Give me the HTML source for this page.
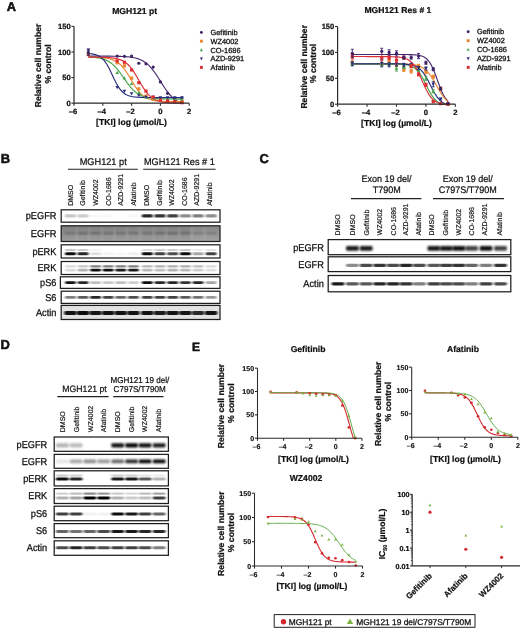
<!DOCTYPE html>
<html><head><meta charset="utf-8"><title>Figure</title><style>html,body{margin:0;padding:0;background:#fff;overflow:hidden;}svg{display:block;}</style></head><body>
<svg width="520" height="628" viewBox="0 0 520 628">
<defs><filter id="b1" x="-30%" y="-150%" width="160%" height="400%"><feGaussianBlur stdDeviation="0.9 0.75"/></filter><filter id="b2" x="-30%" y="-150%" width="160%" height="400%"><feGaussianBlur stdDeviation="1.1 0.95"/></filter><linearGradient id="gE" x1="0" y1="0" x2="0" y2="1"><stop offset="0" stop-color="#7e7e7e"/><stop offset="0.45" stop-color="#8c8c8c"/><stop offset="1" stop-color="#9d9d9d"/></linearGradient></defs>
<rect width="520" height="628" fill="#fff"/>
<g text-rendering="geometricPrecision" font-family="'Liberation Sans', Arial, sans-serif">
<text x="6.8" y="11.2" font-size="12.8" font-weight="bold" fill="#111" stroke="#111" stroke-width="0.55">A</text>
<text x="0.7" y="163.3" font-size="12.9" font-weight="bold" fill="#111" stroke="#111" stroke-width="0.55">B</text>
<text x="259.4" y="162.8" font-size="12.9" font-weight="bold" fill="#111" stroke="#111" stroke-width="0.55">C</text>
<text x="0.5" y="348.7" font-size="12.9" font-weight="bold" fill="#111" stroke="#111" stroke-width="0.55">D</text>
<text x="192.1" y="350.9" font-size="12" font-weight="bold" fill="#111" stroke="#111" stroke-width="0.55">E</text>
<text x="134.6" y="13.5" font-size="8.6" font-weight="bold" text-anchor="middle" fill="#111" stroke="#111" stroke-width="0.22">MGH121 pt</text>
<text x="41.4" y="65.5" font-size="8.6" font-weight="bold" text-anchor="middle" fill="#111" transform="rotate(-90 41.4 65.5)" stroke="#111" stroke-width="0.22">Relative cell number</text>
<text x="51.3" y="64" font-size="8.6" font-weight="bold" text-anchor="middle" fill="#111" transform="rotate(-90 51.3 64)" stroke="#111" stroke-width="0.22">% control</text>
<text x="131.5" y="125" font-size="8.6" font-weight="bold" text-anchor="middle" fill="#111" stroke="#111" stroke-width="0.22">[TKI] log (&#181;mol/L)</text>
<polyline points="88.4,56.1 89.57,56.1 90.74,56.1 91.91,56.1 93.08,56.11 94.25,56.11 95.42,56.11 96.59,56.11 97.76,56.11 98.93,56.12 100.1,56.12 101.27,56.12 102.44,56.13 103.61,56.13 104.78,56.14 105.95,56.14 107.12,56.15 108.29,56.16 109.46,56.17 110.63,56.18 111.8,56.2 112.97,56.21 114.14,56.23 115.31,56.25 116.48,56.28 117.65,56.31 118.82,56.34 119.99,56.38 121.16,56.43 122.33,56.48 123.5,56.54 124.67,56.61 125.84,56.69 127.01,56.79 128.18,56.9 129.35,57.02 130.52,57.17 131.69,57.34 132.86,57.53 134.03,57.76 135.2,58.02 136.37,58.31 137.54,58.65 138.71,59.04 139.88,59.49 141.05,59.99 142.22,60.56 143.39,61.21 144.56,61.94 145.73,62.76 146.9,63.67 148.07,64.69 149.24,65.8 150.41,67.03 151.58,68.36 152.75,69.8 153.92,71.34 155.09,72.98 156.26,74.69 157.43,76.47 158.6,78.31 159.77,80.17 160.94,82.05 162.11,83.92 163.28,85.75 164.45,87.54 165.62,89.26 166.79,90.9 167.96,92.45 169.13,93.9 170.3,95.24 171.47,96.47 172.64,97.6 173.81,98.62 174.98,99.54 176.15,100.37 177.32,101.1 178.49,101.76 179.66,102.34 180.83,102.85 182,103.2" fill="none" stroke="#472a6e" stroke-width="1.15"/>
<polyline points="88.4,57.19 89.57,57.2 90.74,57.22 91.91,57.24 93.08,57.26 94.25,57.29 95.42,57.32 96.59,57.36 97.76,57.41 98.93,57.46 100.1,57.53 101.27,57.61 102.44,57.7 103.61,57.82 104.78,57.95 105.95,58.11 107.12,58.29 108.29,58.52 109.46,58.78 110.63,59.08 111.8,59.45 112.97,59.87 114.14,60.37 115.31,60.94 116.48,61.61 117.65,62.38 118.82,63.27 119.99,64.27 121.16,65.4 122.33,66.67 123.5,68.07 124.67,69.6 125.84,71.26 127.01,73.03 128.18,74.89 129.35,76.82 130.52,78.78 131.69,80.76 132.86,82.72 134.03,84.62 135.2,86.45 136.37,88.18 137.54,89.79 138.71,91.27 139.88,92.62 141.05,93.83 142.22,94.91 143.39,95.87 144.56,96.71 145.73,97.44 146.9,98.07 148.07,98.62 149.24,99.08 150.41,99.48 151.58,99.82 152.75,100.11 153.92,100.36 155.09,100.57 156.26,100.74 157.43,100.89 158.6,101.01 159.77,101.12 160.94,101.21 162.11,101.28 163.28,101.34 164.45,101.39 165.62,101.44 166.79,101.47 167.96,101.51 169.13,101.53 170.3,101.55 171.47,101.57 172.64,101.59 173.81,101.6 174.98,101.61 176.15,101.62 177.32,101.63 178.49,101.63 179.66,101.64 180.83,101.64 182,101.65" fill="none" stroke="#ea8530" stroke-width="1.15"/>
<polyline points="88.4,56.96 89.57,57.02 90.74,57.09 91.91,57.17 93.08,57.26 94.25,57.37 95.42,57.5 96.59,57.65 97.76,57.83 98.93,58.03 100.1,58.26 101.27,58.54 102.44,58.85 103.61,59.22 104.78,59.63 105.95,60.11 107.12,60.66 108.29,61.28 109.46,61.98 110.63,62.77 111.8,63.66 112.97,64.65 114.14,65.73 115.31,66.92 116.48,68.22 117.65,69.61 118.82,71.08 119.99,72.64 121.16,74.25 122.33,75.91 123.5,77.6 124.67,79.28 125.84,80.95 127.01,82.58 128.18,84.16 129.35,85.66 130.52,87.08 131.69,88.4 132.86,89.62 134.03,90.74 135.2,91.76 136.37,92.68 137.54,93.5 138.71,94.23 139.88,94.87 141.05,95.44 142.22,95.94 143.39,96.37 144.56,96.75 145.73,97.08 146.9,97.37 148.07,97.61 149.24,97.83 150.41,98.01 151.58,98.17 152.75,98.3 153.92,98.42 155.09,98.52 156.26,98.6 157.43,98.68 158.6,98.74 159.77,98.79 160.94,98.84 162.11,98.88 163.28,98.91 164.45,98.94 165.62,98.96 166.79,98.98 167.96,99 169.13,99.02 170.3,99.03 171.47,99.04 172.64,99.05 173.81,99.06 174.98,99.06 176.15,99.07 177.32,99.08 178.49,99.08 179.66,99.08 180.83,99.09 182,99.09" fill="none" stroke="#45a448" stroke-width="1.15"/>
<polyline points="88.4,53.46 89.57,53.57 90.74,53.7 91.91,53.87 93.08,54.08 94.25,54.34 95.42,54.66 96.59,55.05 97.76,55.53 98.93,56.12 100.1,56.83 101.27,57.69 102.44,58.72 103.61,59.93 104.78,61.34 105.95,62.97 107.12,64.81 108.29,66.85 109.46,69.08 110.63,71.45 111.8,73.91 112.97,76.41 114.14,78.88 115.31,81.26 116.48,83.51 117.65,85.57 118.82,87.44 119.99,89.09 121.16,90.52 122.33,91.75 123.5,92.8 124.67,93.67 125.84,94.4 127.01,95 128.18,95.49 129.35,95.89 130.52,96.22 131.69,96.49 132.86,96.7 134.03,96.87 135.2,97.01 136.37,97.12 137.54,97.21 138.71,97.28 139.88,97.34 141.05,97.38 142.22,97.42 143.39,97.45 144.56,97.47 145.73,97.49 146.9,97.51 148.07,97.52 149.24,97.53 150.41,97.54 151.58,97.54 152.75,97.55 153.92,97.55 155.09,97.56 156.26,97.56 157.43,97.56 158.6,97.56 159.77,97.56 160.94,97.56 162.11,97.56 163.28,97.57 164.45,97.57 165.62,97.57 166.79,97.57 167.96,97.57 169.13,97.57 170.3,97.57 171.47,97.57 172.64,97.57 173.81,97.57 174.98,97.57 176.15,97.57 177.32,97.57 178.49,97.57 179.66,97.57 180.83,97.57 182,97.57" fill="none" stroke="#262d7c" stroke-width="1.15"/>
<polyline points="88.4,57.14 89.57,57.15 90.74,57.15 91.91,57.16 93.08,57.16 94.25,57.17 95.42,57.18 96.59,57.2 97.76,57.21 98.93,57.23 100.1,57.25 101.27,57.27 102.44,57.3 103.61,57.34 104.78,57.38 105.95,57.43 107.12,57.49 108.29,57.56 109.46,57.65 110.63,57.75 111.8,57.87 112.97,58.01 114.14,58.18 115.31,58.38 116.48,58.62 117.65,58.9 118.82,59.23 119.99,59.62 121.16,60.08 122.33,60.61 123.5,61.23 124.67,61.94 125.84,62.77 127.01,63.71 128.18,64.78 129.35,65.98 130.52,67.32 131.69,68.8 132.86,70.42 134.03,72.16 135.2,74.01 136.37,75.96 137.54,77.96 138.71,80 139.88,82.05 141.05,84.06 142.22,86.01 143.39,87.88 144.56,89.64 145.73,91.28 146.9,92.78 148.07,94.14 149.24,95.37 150.41,96.46 151.58,97.42 152.75,98.26 153.92,98.99 155.09,99.62 156.26,100.17 157.43,100.63 158.6,101.03 159.77,101.37 160.94,101.66 162.11,101.9 163.28,102.11 164.45,102.28 165.62,102.43 166.79,102.55 167.96,102.66 169.13,102.74 170.3,102.82 171.47,102.88 172.64,102.93 173.81,102.98 174.98,103.01 176.15,103.04 177.32,103.07 178.49,103.09 179.66,103.11 180.83,103.12 182,103.14" fill="none" stroke="#dc2f34" stroke-width="1.15"/>
<circle cx="117.2" cy="56.1" r="1.6" fill="#3d2165"/>
<circle cx="124.4" cy="56.3" r="1.6" fill="#3d2165"/>
<circle cx="131.6" cy="56.1" r="1.6" fill="#3d2165"/>
<circle cx="138.8" cy="63.26" r="1.6" fill="#3d2165"/>
<circle cx="146" cy="63.78" r="1.6" fill="#3d2165"/>
<circle cx="153.2" cy="67.1" r="1.6" fill="#3d2165"/>
<circle cx="160.4" cy="81.9" r="1.6" fill="#3d2165"/>
<circle cx="167.6" cy="93.32" r="1.6" fill="#3d2165"/>
<circle cx="174.8" cy="98.59" r="1.6" fill="#3d2165"/>
<circle cx="182" cy="98.08" r="1.6" fill="#3d2165"/>
<rect x="115.6" y="61.15" width="3.2" height="3.2" fill="#ea8530"/>
<rect x="122.8" y="64.22" width="3.2" height="3.2" fill="#ea8530"/>
<rect x="130" y="76.51" width="3.2" height="3.2" fill="#ea8530"/>
<rect x="137.2" y="87.26" width="3.2" height="3.2" fill="#ea8530"/>
<rect x="144.4" y="94.43" width="3.2" height="3.2" fill="#ea8530"/>
<rect x="151.6" y="97.5" width="3.2" height="3.2" fill="#ea8530"/>
<rect x="158.8" y="98.53" width="3.2" height="3.2" fill="#ea8530"/>
<rect x="166" y="99.04" width="3.2" height="3.2" fill="#ea8530"/>
<rect x="173.2" y="99.55" width="3.2" height="3.2" fill="#ea8530"/>
<rect x="180.4" y="100.06" width="3.2" height="3.2" fill="#ea8530"/>
<polygon points="117.2,70.84 118.96,74.06 115.44,74.06" fill="#45a448"/>
<polygon points="124.4,76.27 126.16,79.49 122.64,79.49" fill="#45a448"/>
<polygon points="131.6,81.9 133.36,85.12 129.84,85.12" fill="#45a448"/>
<polygon points="138.8,91.12 140.56,94.34 137.04,94.34" fill="#45a448"/>
<polygon points="146,95.22 147.76,98.44 144.24,98.44" fill="#45a448"/>
<polygon points="153.2,96.24 154.96,99.46 151.44,99.46" fill="#45a448"/>
<polygon points="160.4,96.75 162.16,99.97 158.64,99.97" fill="#45a448"/>
<polygon points="167.6,96.75 169.36,99.97 165.84,99.97" fill="#45a448"/>
<polygon points="174.8,97.26 176.56,100.48 173.04,100.48" fill="#45a448"/>
<polygon points="182,97.26 183.76,100.48 180.24,100.48" fill="#45a448"/>
<polygon points="117.2,89.17 118.96,85.95 115.44,85.95" fill="#262d7c"/>
<polygon points="124.4,92.96 126.16,89.74 122.64,89.74" fill="#262d7c"/>
<polygon points="131.6,95.57 133.36,92.35 129.84,92.35" fill="#262d7c"/>
<polygon points="138.8,97.36 140.56,94.14 137.04,94.14" fill="#262d7c"/>
<polygon points="146,98.9 147.76,95.68 144.24,95.68" fill="#262d7c"/>
<polygon points="153.2,98.9 154.96,95.68 151.44,95.68" fill="#262d7c"/>
<polygon points="160.4,99.41 162.16,96.19 158.64,96.19" fill="#262d7c"/>
<polygon points="167.6,99.41 169.36,96.19 165.84,96.19" fill="#262d7c"/>
<polygon points="174.8,99.41 176.56,96.19 173.04,96.19" fill="#262d7c"/>
<polygon points="182,99.41 183.76,96.19 180.24,96.19" fill="#262d7c"/>
<rect x="115.6" y="59.31" width="3.2" height="3.2" fill="#dc2f34"/>
<rect x="122.8" y="60.64" width="3.2" height="3.2" fill="#dc2f34"/>
<rect x="130" y="68.32" width="3.2" height="3.2" fill="#dc2f34"/>
<rect x="137.2" y="81.12" width="3.2" height="3.2" fill="#dc2f34"/>
<rect x="144.4" y="89.52" width="3.2" height="3.2" fill="#dc2f34"/>
<rect x="151.6" y="95.46" width="3.2" height="3.2" fill="#dc2f34"/>
<rect x="158.8" y="98.53" width="3.2" height="3.2" fill="#dc2f34"/>
<rect x="166" y="99.55" width="3.2" height="3.2" fill="#dc2f34"/>
<rect x="173.2" y="100.06" width="3.2" height="3.2" fill="#dc2f34"/>
<rect x="180.4" y="101.09" width="3.2" height="3.2" fill="#dc2f34"/>
<rect x="86.8" y="52.96" width="3.2" height="3.2" fill="#dc2f34"/>
<rect x="86.8" y="51.94" width="3.2" height="3.2" fill="#ea8530"/>
<polygon points="88.4,51.18 90.16,54.4 86.64,54.4" fill="#45a448"/>
<circle cx="88.4" cy="52.51" r="1.6" fill="#3d2165"/>
<polygon points="88.4,52.82 90.16,49.6 86.64,49.6" fill="#262d7c"/>
<path d="M88.4 48.93V55.07M86.8 48.93h3.2M86.8 55.07h3.2" stroke="#3d2165" stroke-width="1"/>
<path d="M74 26.4V103.2H189.2" fill="none" stroke="#2a2a2a" stroke-width="1.2"/>
<path d="M71.4 103.2H74" stroke="#2a2a2a" stroke-width="1.1"/>
<text x="70.7" y="105.94" font-size="7.6" font-weight="bold" text-anchor="end" fill="#111" stroke="#111" stroke-width="0.22">0</text>
<path d="M71.4 77.6H74" stroke="#2a2a2a" stroke-width="1.1"/>
<text x="70.7" y="80.34" font-size="7.6" font-weight="bold" text-anchor="end" fill="#111" stroke="#111" stroke-width="0.22">50</text>
<path d="M71.4 52H74" stroke="#2a2a2a" stroke-width="1.1"/>
<text x="70.7" y="54.74" font-size="7.6" font-weight="bold" text-anchor="end" fill="#111" stroke="#111" stroke-width="0.22">100</text>
<path d="M71.4 26.4H74" stroke="#2a2a2a" stroke-width="1.1"/>
<text x="70.7" y="29.14" font-size="7.6" font-weight="bold" text-anchor="end" fill="#111" stroke="#111" stroke-width="0.22">150</text>
<path d="M74 103.2V105.8" stroke="#2a2a2a" stroke-width="1.1"/>
<text x="73" y="113.8" font-size="7.6" font-weight="bold" text-anchor="middle" fill="#111" stroke="#111" stroke-width="0.22">&#8211;6</text>
<path d="M102.8 103.2V105.8" stroke="#2a2a2a" stroke-width="1.1"/>
<text x="101.8" y="113.8" font-size="7.6" font-weight="bold" text-anchor="middle" fill="#111" stroke="#111" stroke-width="0.22">&#8211;4</text>
<path d="M131.6 103.2V105.8" stroke="#2a2a2a" stroke-width="1.1"/>
<text x="130.6" y="113.8" font-size="7.6" font-weight="bold" text-anchor="middle" fill="#111" stroke="#111" stroke-width="0.22">&#8211;2</text>
<path d="M160.4 103.2V105.8" stroke="#2a2a2a" stroke-width="1.1"/>
<text x="160.4" y="113.8" font-size="7.6" font-weight="bold" text-anchor="middle" fill="#111" stroke="#111" stroke-width="0.22">0</text>
<path d="M189.2 103.2V105.8" stroke="#2a2a2a" stroke-width="1.1"/>
<text x="189.2" y="113.8" font-size="7.6" font-weight="bold" text-anchor="middle" fill="#111" stroke="#111" stroke-width="0.22">2</text>
<circle cx="201.4" cy="32.4" r="1.45" fill="#3d2165"/>
<text x="210.5" y="35" font-size="7.4" fill="#111" stroke="#111" stroke-width="0.28">Gefitinib</text>
<rect x="199.95" y="39.7" width="2.9" height="2.9" fill="#ea8530"/>
<text x="210.5" y="43.75" font-size="7.4" fill="#111" stroke="#111" stroke-width="0.28">WZ4002</text>
<polygon points="201.4,48.23 203,51.15 199.81,51.15" fill="#45a448"/>
<text x="210.5" y="52.5" font-size="7.4" fill="#111" stroke="#111" stroke-width="0.28">CO-1686</text>
<polygon points="201.4,60.32 203,57.4 199.81,57.4" fill="#262d7c"/>
<text x="210.5" y="61.25" font-size="7.4" fill="#111" stroke="#111" stroke-width="0.28">AZD-9291</text>
<rect x="199.95" y="65.95" width="2.9" height="2.9" fill="#dc2f34"/>
<text x="210.5" y="70" font-size="7.4" fill="#111" stroke="#111" stroke-width="0.28">Afatinib</text>
<text x="397.9" y="13.2" font-size="8.6" font-weight="bold" text-anchor="middle" fill="#111" stroke="#111" stroke-width="0.22">MGH121 Res # 1</text>
<text x="306.7" y="66.8" font-size="8.6" font-weight="bold" text-anchor="middle" fill="#111" transform="rotate(-90 306.7 66.8)" stroke="#111" stroke-width="0.22">Relative cell number</text>
<text x="316.2" y="63.4" font-size="8.6" font-weight="bold" text-anchor="middle" fill="#111" transform="rotate(-90 316.2 63.4)" stroke="#111" stroke-width="0.22">% control</text>
<text x="396.5" y="126" font-size="8.6" font-weight="bold" text-anchor="middle" fill="#111" stroke="#111" stroke-width="0.22">[TKI] log (&#181;mol/L)</text>
<polyline points="352.32,54.47 353.52,54.47 354.71,54.47 355.91,54.47 357.1,54.47 358.3,54.47 359.5,54.47 360.69,54.47 361.89,54.47 363.08,54.47 364.28,54.47 365.48,54.47 366.67,54.47 367.87,54.47 369.06,54.47 370.26,54.47 371.46,54.47 372.65,54.47 373.85,54.47 375.04,54.47 376.24,54.47 377.44,54.47 378.63,54.47 379.83,54.47 381.02,54.47 382.22,54.47 383.42,54.47 384.61,54.47 385.81,54.47 387,54.47 388.2,54.47 389.4,54.47 390.59,54.47 391.79,54.47 392.98,54.48 394.18,54.48 395.38,54.48 396.57,54.48 397.77,54.48 398.96,54.48 400.16,54.49 401.36,54.49 402.55,54.5 403.75,54.5 404.94,54.51 406.14,54.53 407.34,54.54 408.53,54.56 409.73,54.59 410.92,54.63 412.12,54.67 413.32,54.73 414.51,54.81 415.71,54.91 416.9,55.04 418.1,55.21 419.3,55.43 420.49,55.71 421.69,56.06 422.88,56.52 424.08,57.1 425.28,57.84 426.47,58.76 427.67,59.91 428.86,61.32 430.06,63.03 431.26,65.06 432.45,67.43 433.65,70.13 434.84,73.11 436.04,76.32 437.24,79.65 438.43,82.99 439.63,86.24 440.82,89.3 442.02,92.08 443.22,94.54 444.41,96.67 445.61,98.46 446.8,99.95 448,101.17" fill="none" stroke="#472a6e" stroke-width="1.15"/>
<polyline points="352.32,63.8 353.52,63.8 354.71,63.8 355.91,63.8 357.1,63.8 358.3,63.8 359.5,63.8 360.69,63.8 361.89,63.8 363.08,63.8 364.28,63.8 365.48,63.8 366.67,63.8 367.87,63.8 369.06,63.8 370.26,63.8 371.46,63.8 372.65,63.8 373.85,63.8 375.04,63.8 376.24,63.8 377.44,63.8 378.63,63.8 379.83,63.8 381.02,63.8 382.22,63.8 383.42,63.8 384.61,63.8 385.81,63.81 387,63.81 388.2,63.81 389.4,63.81 390.59,63.82 391.79,63.82 392.98,63.83 394.18,63.84 395.38,63.85 396.57,63.86 397.77,63.87 398.96,63.89 400.16,63.91 401.36,63.93 402.55,63.96 403.75,64 404.94,64.04 406.14,64.09 407.34,64.15 408.53,64.23 409.73,64.32 410.92,64.44 412.12,64.57 413.32,64.74 414.51,64.94 415.71,65.18 416.9,65.47 418.1,65.81 419.3,66.22 420.49,66.72 421.69,67.3 422.88,67.98 424.08,68.79 425.28,69.73 426.47,70.81 427.67,72.04 428.86,73.43 430.06,74.99 431.26,76.69 432.45,78.55 433.65,80.52 434.84,82.58 436.04,84.7 437.24,86.83 438.43,88.94 439.63,90.99 440.82,92.94 442.02,94.76 443.22,96.44 444.41,97.96 445.61,99.32 446.8,100.53 448,101.58" fill="none" stroke="#ea8530" stroke-width="1.15"/>
<polyline points="352.32,63.8 353.52,63.8 354.71,63.8 355.91,63.8 357.1,63.8 358.3,63.8 359.5,63.8 360.69,63.8 361.89,63.8 363.08,63.8 364.28,63.8 365.48,63.8 366.67,63.8 367.87,63.8 369.06,63.8 370.26,63.8 371.46,63.8 372.65,63.8 373.85,63.8 375.04,63.8 376.24,63.8 377.44,63.8 378.63,63.8 379.83,63.8 381.02,63.8 382.22,63.81 383.42,63.81 384.61,63.81 385.81,63.82 387,63.82 388.2,63.83 389.4,63.84 390.59,63.85 391.79,63.86 392.98,63.88 394.18,63.9 395.38,63.93 396.57,63.96 397.77,64 398.96,64.05 400.16,64.11 401.36,64.19 402.55,64.29 403.75,64.41 404.94,64.57 406.14,64.75 407.34,64.99 408.53,65.28 409.73,65.64 410.92,66.07 412.12,66.61 413.32,67.26 414.51,68.05 415.71,68.98 416.9,70.1 418.1,71.4 419.3,72.9 420.49,74.61 421.69,76.52 422.88,78.6 424.08,80.84 425.28,83.17 426.47,85.55 427.67,87.91 428.86,90.21 430.06,92.38 431.26,94.39 432.45,96.22 433.65,97.84 434.84,99.25 436.04,100.47 437.24,101.51 438.43,102.38 439.63,103.1 440.82,103.7 442.02,104.19 443.22,104.2 444.41,104.2 445.61,104.2 446.8,104.2 448,104.2" fill="none" stroke="#45a448" stroke-width="1.15"/>
<polyline points="352.32,63.8 353.52,63.8 354.71,63.8 355.91,63.8 357.1,63.8 358.3,63.8 359.5,63.8 360.69,63.8 361.89,63.8 363.08,63.8 364.28,63.8 365.48,63.8 366.67,63.8 367.87,63.8 369.06,63.8 370.26,63.8 371.46,63.8 372.65,63.8 373.85,63.8 375.04,63.8 376.24,63.8 377.44,63.8 378.63,63.8 379.83,63.8 381.02,63.8 382.22,63.8 383.42,63.8 384.61,63.8 385.81,63.81 387,63.81 388.2,63.81 389.4,63.82 390.59,63.82 391.79,63.83 392.98,63.83 394.18,63.84 395.38,63.86 396.57,63.87 397.77,63.89 398.96,63.91 400.16,63.94 401.36,63.98 402.55,64.03 403.75,64.08 404.94,64.15 406.14,64.24 407.34,64.35 408.53,64.49 409.73,64.67 410.92,64.88 412.12,65.14 413.32,65.47 414.51,65.87 415.71,66.36 416.9,66.96 418.1,67.68 419.3,68.55 420.49,69.58 421.69,70.79 422.88,72.21 424.08,73.82 425.28,75.64 426.47,77.65 427.67,79.82 428.86,82.12 430.06,84.48 431.26,86.86 432.45,89.2 433.65,91.43 434.84,93.52 436.04,95.43 437.24,97.14 438.43,98.65 439.63,99.95 440.82,101.07 442.02,102.01 443.22,102.8 444.41,103.45 445.61,103.99 446.8,104.2 448,104.2" fill="none" stroke="#262d7c" stroke-width="1.15"/>
<polyline points="352.32,56.54 353.52,56.54 354.71,56.54 355.91,56.54 357.1,56.54 358.3,56.54 359.5,56.54 360.69,56.54 361.89,56.54 363.08,56.54 364.28,56.54 365.48,56.55 366.67,56.55 367.87,56.55 369.06,56.55 370.26,56.55 371.46,56.55 372.65,56.55 373.85,56.55 375.04,56.55 376.24,56.55 377.44,56.55 378.63,56.56 379.83,56.56 381.02,56.57 382.22,56.57 383.42,56.58 384.61,56.59 385.81,56.6 387,56.61 388.2,56.63 389.4,56.65 390.59,56.67 391.79,56.7 392.98,56.74 394.18,56.79 395.38,56.86 396.57,56.93 397.77,57.03 398.96,57.15 400.16,57.3 401.36,57.49 402.55,57.72 403.75,58.01 404.94,58.37 406.14,58.81 407.34,59.34 408.53,60 409.73,60.79 410.92,61.74 412.12,62.88 413.32,64.22 414.51,65.79 415.71,67.59 416.9,69.62 418.1,71.88 419.3,74.33 420.49,76.93 421.69,79.63 422.88,82.36 424.08,85.05 425.28,87.65 426.47,90.08 427.67,92.32 428.86,94.34 430.06,96.12 431.26,97.67 432.45,98.99 433.65,100.12 434.84,101.06 436.04,101.84 437.24,102.48 438.43,103.01 439.63,103.44 440.82,103.79 442.02,104.08 443.22,104.2 444.41,104.2 445.61,104.2 446.8,104.2 448,104.2" fill="none" stroke="#dc2f34" stroke-width="1.15"/>
<path d="M352.32 60.69V64.83M350.82 60.69h3M350.82 64.83h3" stroke="#ea8530" stroke-width="0.9"/>
<rect x="350.72" y="61.16" width="3.2" height="3.2" fill="#ea8530"/>
<path d="M381.76 62.24V65.35M380.26 62.24h3M380.26 65.35h3" stroke="#ea8530" stroke-width="0.9"/>
<rect x="380.16" y="62.2" width="3.2" height="3.2" fill="#ea8530"/>
<path d="M389.12 58.62V63.8M387.62 58.62h3M387.62 63.8h3" stroke="#ea8530" stroke-width="0.9"/>
<rect x="387.52" y="59.61" width="3.2" height="3.2" fill="#ea8530"/>
<path d="M396.48 63.8V66.9M394.98 63.8h3M394.98 66.9h3" stroke="#ea8530" stroke-width="0.9"/>
<rect x="394.88" y="63.75" width="3.2" height="3.2" fill="#ea8530"/>
<path d="M403.84 67.42V71.57M402.34 67.42h3M402.34 71.57h3" stroke="#ea8530" stroke-width="0.9"/>
<rect x="402.24" y="67.89" width="3.2" height="3.2" fill="#ea8530"/>
<path d="M411.2 68.98V73.12M409.7 68.98h3M409.7 73.12h3" stroke="#ea8530" stroke-width="0.9"/>
<rect x="409.6" y="69.45" width="3.2" height="3.2" fill="#ea8530"/>
<path d="M418.56 64.31V67.42M417.06 64.31h3M417.06 67.42h3" stroke="#ea8530" stroke-width="0.9"/>
<rect x="416.96" y="64.27" width="3.2" height="3.2" fill="#ea8530"/>
<path d="M425.92 70.53V73.64M424.42 70.53h3M424.42 73.64h3" stroke="#ea8530" stroke-width="0.9"/>
<rect x="424.32" y="70.48" width="3.2" height="3.2" fill="#ea8530"/>
<path d="M433.28 75.19V78.3M431.78 75.19h3M431.78 78.3h3" stroke="#ea8530" stroke-width="0.9"/>
<rect x="431.68" y="75.15" width="3.2" height="3.2" fill="#ea8530"/>
<path d="M440.64 87.11V90.21M439.14 87.11h3M439.14 90.21h3" stroke="#ea8530" stroke-width="0.9"/>
<rect x="439.04" y="87.06" width="3.2" height="3.2" fill="#ea8530"/>
<rect x="446.4" y="102.6" width="3.2" height="3.2" fill="#ea8530"/>
<path d="M352.32 62.24V65.35M350.82 62.24h3M350.82 65.35h3" stroke="#45a448" stroke-width="0.9"/>
<polygon points="352.32,61.96 354.08,65.18 350.56,65.18" fill="#45a448"/>
<path d="M381.76 62.76V65.87M380.26 62.76h3M380.26 65.87h3" stroke="#45a448" stroke-width="0.9"/>
<polygon points="381.76,62.47 383.52,65.69 380,65.69" fill="#45a448"/>
<path d="M389.12 62.76V65.87M387.62 62.76h3M387.62 65.87h3" stroke="#45a448" stroke-width="0.9"/>
<polygon points="389.12,62.47 390.88,65.69 387.36,65.69" fill="#45a448"/>
<path d="M396.48 65.87V71.05M394.98 65.87h3M394.98 71.05h3" stroke="#45a448" stroke-width="0.9"/>
<polygon points="396.48,66.62 398.24,69.84 394.72,69.84" fill="#45a448"/>
<path d="M403.84 65.35V68.46M402.34 65.35h3M402.34 68.46h3" stroke="#45a448" stroke-width="0.9"/>
<polygon points="403.84,65.06 405.6,68.28 402.08,68.28" fill="#45a448"/>
<path d="M411.2 64.31V67.42M409.7 64.31h3M409.7 67.42h3" stroke="#45a448" stroke-width="0.9"/>
<polygon points="411.2,64.03 412.96,67.25 409.44,67.25" fill="#45a448"/>
<path d="M418.56 68.46V71.57M417.06 68.46h3M417.06 71.57h3" stroke="#45a448" stroke-width="0.9"/>
<polygon points="418.56,68.17 420.32,71.39 416.8,71.39" fill="#45a448"/>
<path d="M425.92 76.23V80.37M424.42 76.23h3M424.42 80.37h3" stroke="#45a448" stroke-width="0.9"/>
<polygon points="425.92,76.46 427.68,79.68 424.16,79.68" fill="#45a448"/>
<path d="M433.28 89.7V92.8M431.78 89.7h3M431.78 92.8h3" stroke="#45a448" stroke-width="0.9"/>
<polygon points="433.28,89.41 435.04,92.63 431.52,92.63" fill="#45a448"/>
<polygon points="440.64,101.32 442.4,104.54 438.88,104.54" fill="#45a448"/>
<polygon points="448,102.36 449.76,105.58 446.24,105.58" fill="#45a448"/>
<path d="M352.32 61.72V65.87M350.82 61.72h3M350.82 65.87h3" stroke="#262d7c" stroke-width="0.9"/>
<polygon points="352.32,65.64 354.08,62.42 350.56,62.42" fill="#262d7c"/>
<path d="M381.76 59.65V66.9M380.26 59.65h3M380.26 66.9h3" stroke="#262d7c" stroke-width="0.9"/>
<polygon points="381.76,65.12 383.52,61.9 380,61.9" fill="#262d7c"/>
<path d="M389.12 62.76V66.9M387.62 62.76h3M387.62 66.9h3" stroke="#262d7c" stroke-width="0.9"/>
<polygon points="389.12,66.67 390.88,63.45 387.36,63.45" fill="#262d7c"/>
<path d="M396.48 62.76V65.87M394.98 62.76h3M394.98 65.87h3" stroke="#262d7c" stroke-width="0.9"/>
<polygon points="396.48,66.15 398.24,62.93 394.72,62.93" fill="#262d7c"/>
<path d="M403.84 63.28V66.39M402.34 63.28h3M402.34 66.39h3" stroke="#262d7c" stroke-width="0.9"/>
<polygon points="403.84,66.67 405.6,63.45 402.08,63.45" fill="#262d7c"/>
<path d="M411.2 63.28V66.39M409.7 63.28h3M409.7 66.39h3" stroke="#262d7c" stroke-width="0.9"/>
<polygon points="411.2,66.67 412.96,63.45 409.44,63.45" fill="#262d7c"/>
<path d="M418.56 66.39V69.49M417.06 66.39h3M417.06 69.49h3" stroke="#262d7c" stroke-width="0.9"/>
<polygon points="418.56,69.78 420.32,66.56 416.8,66.56" fill="#262d7c"/>
<path d="M425.92 66.9V70.01M424.42 66.9h3M424.42 70.01h3" stroke="#262d7c" stroke-width="0.9"/>
<polygon points="425.92,70.3 427.68,67.08 424.16,67.08" fill="#262d7c"/>
<path d="M433.28 81.62V86.8M431.78 81.62h3M431.78 86.8h3" stroke="#262d7c" stroke-width="0.9"/>
<polygon points="433.28,86.05 435.04,82.83 431.52,82.83" fill="#262d7c"/>
<path d="M440.64 97.98V100.06M439.14 97.98h3M439.14 100.06h3" stroke="#262d7c" stroke-width="0.9"/>
<polygon points="440.64,100.86 442.4,97.64 438.88,97.64" fill="#262d7c"/>
<polygon points="448,106.04 449.76,102.82 446.24,102.82" fill="#262d7c"/>
<path d="M352.32 53.95V59.13M350.82 53.95h3M350.82 59.13h3" stroke="#dc2f34" stroke-width="0.9"/>
<rect x="350.72" y="54.94" width="3.2" height="3.2" fill="#dc2f34"/>
<path d="M381.76 54.47V60.69M380.26 54.47h3M380.26 60.69h3" stroke="#dc2f34" stroke-width="0.9"/>
<rect x="380.16" y="55.98" width="3.2" height="3.2" fill="#dc2f34"/>
<path d="M389.12 55.51V59.65M387.62 55.51h3M387.62 59.65h3" stroke="#dc2f34" stroke-width="0.9"/>
<rect x="387.52" y="55.98" width="3.2" height="3.2" fill="#dc2f34"/>
<path d="M396.48 57.58V62.76M394.98 57.58h3M394.98 62.76h3" stroke="#dc2f34" stroke-width="0.9"/>
<rect x="394.88" y="58.57" width="3.2" height="3.2" fill="#dc2f34"/>
<path d="M403.84 56.03V59.13M402.34 56.03h3M402.34 59.13h3" stroke="#dc2f34" stroke-width="0.9"/>
<rect x="402.24" y="55.98" width="3.2" height="3.2" fill="#dc2f34"/>
<path d="M411.2 64.31V67.42M409.7 64.31h3M409.7 67.42h3" stroke="#dc2f34" stroke-width="0.9"/>
<rect x="409.6" y="64.27" width="3.2" height="3.2" fill="#dc2f34"/>
<path d="M418.56 72.86V75.97M417.06 72.86h3M417.06 75.97h3" stroke="#dc2f34" stroke-width="0.9"/>
<rect x="416.96" y="72.82" width="3.2" height="3.2" fill="#dc2f34"/>
<path d="M425.92 83.22V86.33M424.42 83.22h3M424.42 86.33h3" stroke="#dc2f34" stroke-width="0.9"/>
<rect x="424.32" y="83.18" width="3.2" height="3.2" fill="#dc2f34"/>
<path d="M433.28 100.57V102.65M431.78 100.57h3M431.78 102.65h3" stroke="#dc2f34" stroke-width="0.9"/>
<rect x="431.68" y="100.01" width="3.2" height="3.2" fill="#dc2f34"/>
<rect x="439.04" y="102.08" width="3.2" height="3.2" fill="#dc2f34"/>
<rect x="446.4" y="102.6" width="3.2" height="3.2" fill="#dc2f34"/>
<path d="M352.32 49.29V57.58M350.82 49.29h3M350.82 57.58h3" stroke="#3d2165" stroke-width="0.9"/>
<circle cx="352.32" cy="53.44" r="1.6" fill="#3d2165"/>
<path d="M381.76 48.26V54.47M380.26 48.26h3M380.26 54.47h3" stroke="#3d2165" stroke-width="0.9"/>
<circle cx="381.76" cy="51.36" r="1.6" fill="#3d2165"/>
<path d="M389.12 49.81V54.99M387.62 49.81h3M387.62 54.99h3" stroke="#3d2165" stroke-width="0.9"/>
<circle cx="389.12" cy="52.4" r="1.6" fill="#3d2165"/>
<path d="M396.48 50.85V56.03M394.98 50.85h3M394.98 56.03h3" stroke="#3d2165" stroke-width="0.9"/>
<circle cx="396.48" cy="53.44" r="1.6" fill="#3d2165"/>
<path d="M403.84 56.03V59.13M402.34 56.03h3M402.34 59.13h3" stroke="#3d2165" stroke-width="0.9"/>
<circle cx="403.84" cy="57.58" r="1.6" fill="#3d2165"/>
<path d="M411.2 56.03V59.13M409.7 56.03h3M409.7 59.13h3" stroke="#3d2165" stroke-width="0.9"/>
<circle cx="411.2" cy="57.58" r="1.6" fill="#3d2165"/>
<path d="M418.56 53.44V58.62M417.06 53.44h3M417.06 58.62h3" stroke="#3d2165" stroke-width="0.9"/>
<circle cx="418.56" cy="56.03" r="1.6" fill="#3d2165"/>
<path d="M425.92 61.21V64.31M424.42 61.21h3M424.42 64.31h3" stroke="#3d2165" stroke-width="0.9"/>
<circle cx="425.92" cy="62.76" r="1.6" fill="#3d2165"/>
<path d="M433.28 67.63V70.74M431.78 67.63h3M431.78 70.74h3" stroke="#3d2165" stroke-width="0.9"/>
<circle cx="433.28" cy="69.18" r="1.6" fill="#3d2165"/>
<path d="M440.64 87.11V90.21M439.14 87.11h3M439.14 90.21h3" stroke="#3d2165" stroke-width="0.9"/>
<circle cx="440.64" cy="88.66" r="1.6" fill="#3d2165"/>
<circle cx="448" cy="103.16" r="1.6" fill="#3d2165"/>
<path d="M337.6 26.5V104.2H455.36" fill="none" stroke="#2a2a2a" stroke-width="1.2"/>
<path d="M335 104.2H337.6" stroke="#2a2a2a" stroke-width="1.1"/>
<text x="334.3" y="106.94" font-size="7.6" font-weight="bold" text-anchor="end" fill="#111" stroke="#111" stroke-width="0.22">0</text>
<path d="M335 78.3H337.6" stroke="#2a2a2a" stroke-width="1.1"/>
<text x="334.3" y="81.04" font-size="7.6" font-weight="bold" text-anchor="end" fill="#111" stroke="#111" stroke-width="0.22">50</text>
<path d="M335 52.4H337.6" stroke="#2a2a2a" stroke-width="1.1"/>
<text x="334.3" y="55.14" font-size="7.6" font-weight="bold" text-anchor="end" fill="#111" stroke="#111" stroke-width="0.22">100</text>
<path d="M335 26.5H337.6" stroke="#2a2a2a" stroke-width="1.1"/>
<text x="334.3" y="29.24" font-size="7.6" font-weight="bold" text-anchor="end" fill="#111" stroke="#111" stroke-width="0.22">150</text>
<path d="M337.6 104.2V106.8" stroke="#2a2a2a" stroke-width="1.1"/>
<text x="336.6" y="114.8" font-size="7.6" font-weight="bold" text-anchor="middle" fill="#111" stroke="#111" stroke-width="0.22">&#8211;6</text>
<path d="M367.04 104.2V106.8" stroke="#2a2a2a" stroke-width="1.1"/>
<text x="366.04" y="114.8" font-size="7.6" font-weight="bold" text-anchor="middle" fill="#111" stroke="#111" stroke-width="0.22">&#8211;4</text>
<path d="M396.48 104.2V106.8" stroke="#2a2a2a" stroke-width="1.1"/>
<text x="395.48" y="114.8" font-size="7.6" font-weight="bold" text-anchor="middle" fill="#111" stroke="#111" stroke-width="0.22">&#8211;2</text>
<path d="M425.92 104.2V106.8" stroke="#2a2a2a" stroke-width="1.1"/>
<text x="425.92" y="114.8" font-size="7.6" font-weight="bold" text-anchor="middle" fill="#111" stroke="#111" stroke-width="0.22">0</text>
<path d="M455.36 104.2V106.8" stroke="#2a2a2a" stroke-width="1.1"/>
<text x="455.36" y="114.8" font-size="7.6" font-weight="bold" text-anchor="middle" fill="#111" stroke="#111" stroke-width="0.22">2</text>
<circle cx="468.2" cy="31.8" r="1.45" fill="#3d2165"/>
<text x="476.9" y="34.4" font-size="7.4" fill="#111" stroke="#111" stroke-width="0.28">Gefitinib</text>
<rect x="466.75" y="39.25" width="2.9" height="2.9" fill="#ea8530"/>
<text x="476.9" y="43.3" font-size="7.4" fill="#111" stroke="#111" stroke-width="0.28">WZ4002</text>
<polygon points="468.2,47.93 469.8,50.85 466.6,50.85" fill="#45a448"/>
<text x="476.9" y="52.2" font-size="7.4" fill="#111" stroke="#111" stroke-width="0.28">CO-1686</text>
<polygon points="468.2,60.17 469.8,57.25 466.6,57.25" fill="#262d7c"/>
<text x="476.9" y="61.1" font-size="7.4" fill="#111" stroke="#111" stroke-width="0.28">AZD-9291</text>
<rect x="466.75" y="65.95" width="2.9" height="2.9" fill="#dc2f34"/>
<text x="476.9" y="70" font-size="7.4" fill="#111" stroke="#111" stroke-width="0.28">Afatinib</text>
<text transform="translate(103.2 164.6) scale(1 1.06)" font-size="9.2" text-anchor="middle" fill="#111" stroke="#111" stroke-width="0.22">MGH121 pt</text>
<text transform="translate(179.4 164.6) scale(1 1.06)" font-size="9.2" text-anchor="middle" fill="#111" stroke="#111" stroke-width="0.22">MGH121 Res # 1</text>
<path d="M68 169.2H137.8M143.2 169.2H215.6" stroke="#222" stroke-width="1.15"/>
<text x="72.9" y="205.8" font-size="7" fill="#111" stroke="#111" stroke-width="0.18" transform="rotate(-90 72.9 205.8)">DMSO</text>
<text x="85.3" y="205.8" font-size="7" fill="#111" stroke="#111" stroke-width="0.18" transform="rotate(-90 85.3 205.8)">Gefitinib</text>
<text x="98.1" y="205.8" font-size="7" fill="#111" stroke="#111" stroke-width="0.18" transform="rotate(-90 98.1 205.8)">WZ4002</text>
<text x="110.8" y="205.8" font-size="7" fill="#111" stroke="#111" stroke-width="0.18" transform="rotate(-90 110.8 205.8)">CO-1686</text>
<text x="123.5" y="205.8" font-size="7" fill="#111" stroke="#111" stroke-width="0.18" transform="rotate(-90 123.5 205.8)">AZD-9291</text>
<text x="135.9" y="205.8" font-size="7" fill="#111" stroke="#111" stroke-width="0.18" transform="rotate(-90 135.9 205.8)">Afatinib</text>
<text x="149.2" y="205.8" font-size="7" fill="#111" stroke="#111" stroke-width="0.18" transform="rotate(-90 149.2 205.8)">DMSO</text>
<text x="161.7" y="205.8" font-size="7" fill="#111" stroke="#111" stroke-width="0.18" transform="rotate(-90 161.7 205.8)">Gefitinib</text>
<text x="174.2" y="205.8" font-size="7" fill="#111" stroke="#111" stroke-width="0.18" transform="rotate(-90 174.2 205.8)">WZ4002</text>
<text x="186.7" y="205.8" font-size="7" fill="#111" stroke="#111" stroke-width="0.18" transform="rotate(-90 186.7 205.8)">CO-1686</text>
<text x="199" y="205.8" font-size="7" fill="#111" stroke="#111" stroke-width="0.18" transform="rotate(-90 199 205.8)">AZD-9291</text>
<text x="212.4" y="205.8" font-size="7" fill="#111" stroke="#111" stroke-width="0.18" transform="rotate(-90 212.4 205.8)">Afatinib</text>
<text transform="translate(56.4 219.4) scale(1 1.08)" font-size="9.2" text-anchor="end" fill="#111" stroke="#111" stroke-width="0.26">pEGFR</text>
<text transform="translate(56.4 237.05) scale(1 1.08)" font-size="9.2" text-anchor="end" fill="#111" stroke="#111" stroke-width="0.26">EGFR</text>
<text transform="translate(56.4 254.8) scale(1 1.08)" font-size="9.2" text-anchor="end" fill="#111" stroke="#111" stroke-width="0.26">pERK</text>
<text transform="translate(56.4 271.4) scale(1 1.08)" font-size="9.2" text-anchor="end" fill="#111" stroke="#111" stroke-width="0.26">ERK</text>
<text transform="translate(56.4 286) scale(1 1.08)" font-size="9.2" text-anchor="end" fill="#111" stroke="#111" stroke-width="0.26">pS6</text>
<text transform="translate(56.4 300.7) scale(1 1.08)" font-size="9.2" text-anchor="end" fill="#111" stroke="#111" stroke-width="0.26">S6</text>
<text transform="translate(56.4 315.7) scale(1 1.08)" font-size="9.2" text-anchor="end" fill="#111" stroke="#111" stroke-width="0.26">Actin</text>
<rect x="61.2" y="209.8" width="158.8" height="12.4" fill="#fff" stroke="#1e1e1e" stroke-width="1.25"/>
<rect x="65" y="214.2" width="11" height="3.4" rx="1.4" fill="#000" fill-opacity="0.22" filter="url(#b1)"/>
<rect x="77.5" y="214.2" width="11" height="3.4" rx="1.4" fill="#000" fill-opacity="0.20" filter="url(#b1)"/>
<rect x="90.1" y="214.2" width="11" height="3.4" rx="1.4" fill="#000" fill-opacity="0.03" filter="url(#b1)"/>
<rect x="102.7" y="214.2" width="11" height="3.4" rx="1.4" fill="#000" fill-opacity="0.03" filter="url(#b1)"/>
<rect x="127.9" y="214.2" width="11" height="3.4" rx="1.4" fill="#000" fill-opacity="0.03" filter="url(#b1)"/>
<rect x="141.8" y="214.2" width="11" height="3.4" rx="1.4" fill="#000" fill-opacity="0.85" filter="url(#b1)"/>
<rect x="154.5" y="214.2" width="11" height="3.4" rx="1.4" fill="#000" fill-opacity="0.80" filter="url(#b1)"/>
<rect x="167.2" y="214.2" width="11" height="3.4" rx="1.4" fill="#000" fill-opacity="0.75" filter="url(#b1)"/>
<rect x="179.9" y="214.2" width="11" height="3.4" rx="1.4" fill="#000" fill-opacity="0.45" filter="url(#b1)"/>
<rect x="192.6" y="214.2" width="11" height="3.4" rx="1.4" fill="#000" fill-opacity="0.50" filter="url(#b1)"/>
<rect x="205.6" y="214.2" width="11" height="3.4" rx="1.4" fill="#000" fill-opacity="0.45" filter="url(#b1)"/>
<rect x="61.2" y="225.8" width="158.8" height="15.7" fill="url(#gE)" stroke="#1e1e1e" stroke-width="1.25"/>
<rect x="75.85" y="226.6" width="1.8" height="14.2" fill="#fff" fill-opacity="0.1" filter="url(#b1)"/>
<rect x="88.4" y="226.6" width="1.8" height="14.2" fill="#fff" fill-opacity="0.1" filter="url(#b1)"/>
<rect x="101" y="226.6" width="1.8" height="14.2" fill="#fff" fill-opacity="0.1" filter="url(#b1)"/>
<rect x="113.6" y="226.6" width="1.8" height="14.2" fill="#fff" fill-opacity="0.1" filter="url(#b1)"/>
<rect x="126.2" y="226.6" width="1.8" height="14.2" fill="#fff" fill-opacity="0.1" filter="url(#b1)"/>
<rect x="139.45" y="226.6" width="1.8" height="14.2" fill="#fff" fill-opacity="0.1" filter="url(#b1)"/>
<rect x="152.75" y="226.6" width="1.8" height="14.2" fill="#fff" fill-opacity="0.1" filter="url(#b1)"/>
<rect x="165.45" y="226.6" width="1.8" height="14.2" fill="#fff" fill-opacity="0.1" filter="url(#b1)"/>
<rect x="178.15" y="226.6" width="1.8" height="14.2" fill="#fff" fill-opacity="0.1" filter="url(#b1)"/>
<rect x="190.85" y="226.6" width="1.8" height="14.2" fill="#fff" fill-opacity="0.1" filter="url(#b1)"/>
<rect x="203.7" y="226.6" width="1.8" height="14.2" fill="#fff" fill-opacity="0.1" filter="url(#b1)"/>
<rect x="65" y="231.4" width="11" height="3.6" rx="1.4" fill="#000" fill-opacity="0.14" filter="url(#b1)"/>
<rect x="77.5" y="231.4" width="11" height="3.6" rx="1.4" fill="#000" fill-opacity="0.16" filter="url(#b1)"/>
<rect x="90.1" y="231.4" width="11" height="3.6" rx="1.4" fill="#000" fill-opacity="0.16" filter="url(#b1)"/>
<rect x="102.7" y="231.4" width="11" height="3.6" rx="1.4" fill="#000" fill-opacity="0.14" filter="url(#b1)"/>
<rect x="115.3" y="231.4" width="11" height="3.6" rx="1.4" fill="#000" fill-opacity="0.14" filter="url(#b1)"/>
<rect x="127.9" y="231.4" width="11" height="3.6" rx="1.4" fill="#000" fill-opacity="0.14" filter="url(#b1)"/>
<rect x="141.8" y="231.4" width="11" height="3.6" rx="1.4" fill="#000" fill-opacity="0.14" filter="url(#b1)"/>
<rect x="154.5" y="231.4" width="11" height="3.6" rx="1.4" fill="#000" fill-opacity="0.16" filter="url(#b1)"/>
<rect x="167.2" y="231.4" width="11" height="3.6" rx="1.4" fill="#000" fill-opacity="0.18" filter="url(#b1)"/>
<rect x="179.9" y="231.4" width="11" height="3.6" rx="1.4" fill="#000" fill-opacity="0.16" filter="url(#b1)"/>
<rect x="192.6" y="231.4" width="11" height="3.6" rx="1.4" fill="#000" fill-opacity="0.12" filter="url(#b1)"/>
<rect x="205.6" y="231.4" width="11" height="3.6" rx="1.4" fill="#000" fill-opacity="0.12" filter="url(#b1)"/>
<rect x="190" y="226.4" width="29.4" height="14.5" fill="#fff" fill-opacity="0.06"/>
<rect x="61.2" y="244.8" width="158.8" height="13.2" fill="#fff" stroke="#1e1e1e" stroke-width="1.25"/>
<rect x="65" y="249" width="11" height="2" rx="1" fill="#000" fill-opacity="0.22" filter="url(#b1)"/>
<rect x="77.5" y="249" width="11" height="2" rx="1" fill="#000" fill-opacity="0.20" filter="url(#b1)"/>
<rect x="90.1" y="249" width="11" height="2" rx="1" fill="#000" fill-opacity="0.05" filter="url(#b1)"/>
<rect x="141.8" y="249" width="11" height="2" rx="1" fill="#000" fill-opacity="0.15" filter="url(#b1)"/>
<rect x="154.5" y="249" width="11" height="2" rx="1" fill="#000" fill-opacity="0.20" filter="url(#b1)"/>
<rect x="167.2" y="249" width="11" height="2" rx="1" fill="#000" fill-opacity="0.20" filter="url(#b1)"/>
<rect x="179.9" y="249" width="11" height="2" rx="1" fill="#000" fill-opacity="0.22" filter="url(#b1)"/>
<rect x="192.6" y="249" width="11" height="2" rx="1" fill="#000" fill-opacity="0.08" filter="url(#b1)"/>
<rect x="205.6" y="249" width="11" height="2" rx="1" fill="#000" fill-opacity="0.12" filter="url(#b1)"/>
<rect x="65" y="252.3" width="11" height="3" rx="1.4" fill="#000" fill-opacity="0.95" filter="url(#b1)"/>
<rect x="77.5" y="252.3" width="11" height="3" rx="1.4" fill="#000" fill-opacity="0.85" filter="url(#b1)"/>
<rect x="90.1" y="252.3" width="11" height="3" rx="1.4" fill="#000" fill-opacity="0.12" filter="url(#b1)"/>
<rect x="102.7" y="252.3" width="11" height="3" rx="1.4" fill="#000" fill-opacity="0.04" filter="url(#b1)"/>
<rect x="115.3" y="252.3" width="11" height="3" rx="1.4" fill="#000" fill-opacity="0.03" filter="url(#b1)"/>
<rect x="127.9" y="252.3" width="11" height="3" rx="1.4" fill="#000" fill-opacity="0.06" filter="url(#b1)"/>
<rect x="141.8" y="252.3" width="11" height="3" rx="1.4" fill="#000" fill-opacity="0.95" filter="url(#b1)"/>
<rect x="154.5" y="252.3" width="11" height="3" rx="1.4" fill="#000" fill-opacity="0.75" filter="url(#b1)"/>
<rect x="167.2" y="252.3" width="11" height="3" rx="1.4" fill="#000" fill-opacity="0.70" filter="url(#b1)"/>
<rect x="179.9" y="252.3" width="11" height="3" rx="1.4" fill="#000" fill-opacity="0.95" filter="url(#b1)"/>
<rect x="192.6" y="252.3" width="11" height="3" rx="1.4" fill="#000" fill-opacity="0.35" filter="url(#b1)"/>
<rect x="205.6" y="252.3" width="11" height="3" rx="1.4" fill="#000" fill-opacity="0.75" filter="url(#b1)"/>
<rect x="61.2" y="261.5" width="158.8" height="13" fill="#fff" stroke="#1e1e1e" stroke-width="1.25"/>
<rect x="65" y="265.2" width="11" height="2.2" rx="1.1" fill="#000" fill-opacity="0.15" filter="url(#b1)"/>
<rect x="77.5" y="265.2" width="11" height="2.2" rx="1.1" fill="#000" fill-opacity="0.22" filter="url(#b1)"/>
<rect x="90.1" y="265.2" width="11" height="2.2" rx="1.1" fill="#000" fill-opacity="0.50" filter="url(#b1)"/>
<rect x="102.7" y="265.2" width="11" height="2.2" rx="1.1" fill="#000" fill-opacity="0.50" filter="url(#b1)"/>
<rect x="115.3" y="265.2" width="11" height="2.2" rx="1.1" fill="#000" fill-opacity="0.50" filter="url(#b1)"/>
<rect x="127.9" y="265.2" width="11" height="2.2" rx="1.1" fill="#000" fill-opacity="0.50" filter="url(#b1)"/>
<rect x="141.8" y="265.2" width="11" height="2.2" rx="1.1" fill="#000" fill-opacity="0.28" filter="url(#b1)"/>
<rect x="154.5" y="265.2" width="11" height="2.2" rx="1.1" fill="#000" fill-opacity="0.30" filter="url(#b1)"/>
<rect x="167.2" y="265.2" width="11" height="2.2" rx="1.1" fill="#000" fill-opacity="0.32" filter="url(#b1)"/>
<rect x="179.9" y="265.2" width="11" height="2.2" rx="1.1" fill="#000" fill-opacity="0.32" filter="url(#b1)"/>
<rect x="192.6" y="265.2" width="11" height="2.2" rx="1.1" fill="#000" fill-opacity="0.25" filter="url(#b1)"/>
<rect x="205.6" y="265.2" width="11" height="2.2" rx="1.1" fill="#000" fill-opacity="0.15" filter="url(#b1)"/>
<rect x="65" y="268.8" width="11" height="2.6" rx="1.3" fill="#000" fill-opacity="0.15" filter="url(#b1)"/>
<rect x="77.5" y="268.8" width="11" height="2.6" rx="1.3" fill="#000" fill-opacity="0.30" filter="url(#b1)"/>
<rect x="90.1" y="268.8" width="11" height="2.6" rx="1.3" fill="#000" fill-opacity="0.95" filter="url(#b1)"/>
<rect x="102.7" y="268.8" width="11" height="2.6" rx="1.3" fill="#000" fill-opacity="0.95" filter="url(#b1)"/>
<rect x="115.3" y="268.8" width="11" height="2.6" rx="1.3" fill="#000" fill-opacity="0.90" filter="url(#b1)"/>
<rect x="127.9" y="268.8" width="11" height="2.6" rx="1.3" fill="#000" fill-opacity="0.90" filter="url(#b1)"/>
<rect x="141.8" y="268.8" width="11" height="2.6" rx="1.3" fill="#000" fill-opacity="0.28" filter="url(#b1)"/>
<rect x="154.5" y="268.8" width="11" height="2.6" rx="1.3" fill="#000" fill-opacity="0.25" filter="url(#b1)"/>
<rect x="167.2" y="268.8" width="11" height="2.6" rx="1.3" fill="#000" fill-opacity="0.30" filter="url(#b1)"/>
<rect x="179.9" y="268.8" width="11" height="2.6" rx="1.3" fill="#000" fill-opacity="0.28" filter="url(#b1)"/>
<rect x="192.6" y="268.8" width="11" height="2.6" rx="1.3" fill="#000" fill-opacity="0.20" filter="url(#b1)"/>
<rect x="205.6" y="268.8" width="11" height="2.6" rx="1.3" fill="#000" fill-opacity="0.12" filter="url(#b1)"/>
<rect x="60.4" y="276.8" width="159.6" height="11.6" fill="#fff" stroke="#1e1e1e" stroke-width="1.25"/>
<rect x="65" y="281.2" width="11" height="2.8" rx="1.4" fill="#000" fill-opacity="0.92" filter="url(#b1)"/>
<rect x="77.5" y="281.2" width="11" height="2.8" rx="1.4" fill="#000" fill-opacity="0.85" filter="url(#b1)"/>
<rect x="90.1" y="281.2" width="11" height="2.8" rx="1.4" fill="#000" fill-opacity="0.25" filter="url(#b1)"/>
<rect x="102.7" y="281.2" width="11" height="2.8" rx="1.4" fill="#000" fill-opacity="0.22" filter="url(#b1)"/>
<rect x="115.3" y="281.2" width="11" height="2.8" rx="1.4" fill="#000" fill-opacity="0.25" filter="url(#b1)"/>
<rect x="127.9" y="281.2" width="11" height="2.8" rx="1.4" fill="#000" fill-opacity="0.20" filter="url(#b1)"/>
<rect x="141.8" y="281.2" width="11" height="2.8" rx="1.4" fill="#000" fill-opacity="0.95" filter="url(#b1)"/>
<rect x="154.5" y="281.2" width="11" height="2.8" rx="1.4" fill="#000" fill-opacity="0.85" filter="url(#b1)"/>
<rect x="167.2" y="281.2" width="11" height="2.8" rx="1.4" fill="#000" fill-opacity="0.85" filter="url(#b1)"/>
<rect x="179.9" y="281.2" width="11" height="2.8" rx="1.4" fill="#000" fill-opacity="0.80" filter="url(#b1)"/>
<rect x="192.6" y="281.2" width="11" height="2.8" rx="1.4" fill="#000" fill-opacity="0.85" filter="url(#b1)"/>
<rect x="205.6" y="281.2" width="11" height="2.8" rx="1.4" fill="#000" fill-opacity="0.35" filter="url(#b1)"/>
<rect x="61.2" y="291.2" width="158.8" height="12.2" fill="#fff" stroke="#1e1e1e" stroke-width="1.25"/>
<rect x="65" y="296.1" width="11" height="2.6" rx="1.3" fill="#000" fill-opacity="0.50" filter="url(#b1)"/>
<rect x="77.5" y="296.1" width="11" height="2.6" rx="1.3" fill="#000" fill-opacity="0.65" filter="url(#b1)"/>
<rect x="90.1" y="296.1" width="11" height="2.6" rx="1.3" fill="#000" fill-opacity="0.85" filter="url(#b1)"/>
<rect x="102.7" y="296.1" width="11" height="2.6" rx="1.3" fill="#000" fill-opacity="0.75" filter="url(#b1)"/>
<rect x="115.3" y="296.1" width="11" height="2.6" rx="1.3" fill="#000" fill-opacity="0.60" filter="url(#b1)"/>
<rect x="127.9" y="296.1" width="11" height="2.6" rx="1.3" fill="#000" fill-opacity="0.70" filter="url(#b1)"/>
<rect x="141.8" y="296.1" width="11" height="2.6" rx="1.3" fill="#000" fill-opacity="0.75" filter="url(#b1)"/>
<rect x="154.5" y="296.1" width="11" height="2.6" rx="1.3" fill="#000" fill-opacity="0.75" filter="url(#b1)"/>
<rect x="167.2" y="296.1" width="11" height="2.6" rx="1.3" fill="#000" fill-opacity="0.75" filter="url(#b1)"/>
<rect x="179.9" y="296.1" width="11" height="2.6" rx="1.3" fill="#000" fill-opacity="0.65" filter="url(#b1)"/>
<rect x="192.6" y="296.1" width="11" height="2.6" rx="1.3" fill="#000" fill-opacity="0.55" filter="url(#b1)"/>
<rect x="205.6" y="296.1" width="11" height="2.6" rx="1.3" fill="#000" fill-opacity="0.40" filter="url(#b1)"/>
<rect x="61.2" y="305.4" width="158.8" height="14.1" fill="#e2e2e2" stroke="#1e1e1e" stroke-width="1.25"/>
<rect x="64.3" y="311" width="12.4" height="4" rx="1.4" fill="#000" fill-opacity="0.92" filter="url(#b1)"/>
<rect x="76.8" y="311" width="12.4" height="4" rx="1.4" fill="#000" fill-opacity="0.95" filter="url(#b1)"/>
<rect x="89.4" y="311" width="12.4" height="4" rx="1.4" fill="#000" fill-opacity="0.90" filter="url(#b1)"/>
<rect x="102" y="311" width="12.4" height="4" rx="1.4" fill="#000" fill-opacity="0.92" filter="url(#b1)"/>
<rect x="114.6" y="311" width="12.4" height="4" rx="1.4" fill="#000" fill-opacity="0.92" filter="url(#b1)"/>
<rect x="127.2" y="311" width="12.4" height="4" rx="1.4" fill="#000" fill-opacity="0.92" filter="url(#b1)"/>
<rect x="141.1" y="311" width="12.4" height="4" rx="1.4" fill="#000" fill-opacity="0.92" filter="url(#b1)"/>
<rect x="153.8" y="311" width="12.4" height="4" rx="1.4" fill="#000" fill-opacity="0.88" filter="url(#b1)"/>
<rect x="166.5" y="311" width="12.4" height="4" rx="1.4" fill="#000" fill-opacity="0.92" filter="url(#b1)"/>
<rect x="179.2" y="311" width="12.4" height="4" rx="1.4" fill="#000" fill-opacity="0.90" filter="url(#b1)"/>
<rect x="191.9" y="311" width="12.4" height="4" rx="1.4" fill="#000" fill-opacity="0.82" filter="url(#b1)"/>
<rect x="204.9" y="311" width="12.4" height="4" rx="1.4" fill="#000" fill-opacity="0.92" filter="url(#b1)"/>
<text transform="translate(386.6 181.8) scale(1 1.06)" font-size="9.0" text-anchor="middle" fill="#111" stroke="#111" stroke-width="0.22">Exon 19 del/</text>
<text transform="translate(386.8 193) scale(1 1.06)" font-size="9.0" text-anchor="middle" fill="#111" stroke="#111" stroke-width="0.22">T790M</text>
<text transform="translate(467.8 181.8) scale(1 1.06)" font-size="9.0" text-anchor="middle" fill="#111" stroke="#111" stroke-width="0.22">Exon 19 del/</text>
<text transform="translate(467.7 193) scale(1 1.06)" font-size="9.0" text-anchor="middle" fill="#111" stroke="#111" stroke-width="0.22">C797S/T790M</text>
<path d="M351 198.6H421.4M433 198.6H504" stroke="#222" stroke-width="1.15"/>
<text x="340" y="235.4" font-size="7" fill="#111" stroke="#111" stroke-width="0.18" transform="rotate(-90 340 235.4)">DMSO</text>
<text x="354.8" y="235.4" font-size="7" fill="#111" stroke="#111" stroke-width="0.18" transform="rotate(-90 354.8 235.4)">DMSO</text>
<text x="368.6" y="235.4" font-size="7" fill="#111" stroke="#111" stroke-width="0.18" transform="rotate(-90 368.6 235.4)">Gefitinib</text>
<text x="382.1" y="235.4" font-size="7" fill="#111" stroke="#111" stroke-width="0.18" transform="rotate(-90 382.1 235.4)">WZ4002</text>
<text x="395.7" y="235.4" font-size="7" fill="#111" stroke="#111" stroke-width="0.18" transform="rotate(-90 395.7 235.4)">CO-1686</text>
<text x="408.2" y="235.4" font-size="7" fill="#111" stroke="#111" stroke-width="0.18" transform="rotate(-90 408.2 235.4)">AZD-9291</text>
<text x="420.6" y="235.4" font-size="7" fill="#111" stroke="#111" stroke-width="0.18" transform="rotate(-90 420.6 235.4)">Afatinib</text>
<text x="434.2" y="235.4" font-size="7" fill="#111" stroke="#111" stroke-width="0.18" transform="rotate(-90 434.2 235.4)">DMSO</text>
<text x="447.7" y="235.4" font-size="7" fill="#111" stroke="#111" stroke-width="0.18" transform="rotate(-90 447.7 235.4)">Gefitinib</text>
<text x="460.9" y="235.4" font-size="7" fill="#111" stroke="#111" stroke-width="0.18" transform="rotate(-90 460.9 235.4)">WZ4002</text>
<text x="473.9" y="235.4" font-size="7" fill="#111" stroke="#111" stroke-width="0.18" transform="rotate(-90 473.9 235.4)">CO-1686</text>
<text x="486.9" y="235.4" font-size="7" fill="#111" stroke="#111" stroke-width="0.18" transform="rotate(-90 486.9 235.4)">AZD-9291</text>
<text x="501.7" y="235.4" font-size="7" fill="#111" stroke="#111" stroke-width="0.18" transform="rotate(-90 501.7 235.4)">Afatinib</text>
<text transform="translate(323.8 250.55) scale(1 1.08)" font-size="9.2" text-anchor="end" fill="#111" stroke="#111" stroke-width="0.26">pEGFR</text>
<text transform="translate(323.8 267.6) scale(1 1.08)" font-size="9.2" text-anchor="end" fill="#111" stroke="#111" stroke-width="0.26">EGFR</text>
<text transform="translate(323.8 287.05) scale(1 1.08)" font-size="9.2" text-anchor="end" fill="#111" stroke="#111" stroke-width="0.26">Actin</text>
<rect x="328.2" y="239.6" width="182.6" height="15.1" fill="#fff" stroke="#1e1e1e" stroke-width="1.25"/>
<rect x="346" y="246.1" width="12.8" height="4.6" rx="1.4" fill="#000" fill-opacity="0.90" filter="url(#b2)"/>
<rect x="359.8" y="246.1" width="12.8" height="4.6" rx="1.4" fill="#000" fill-opacity="0.90" filter="url(#b2)"/>
<rect x="427.5" y="246.1" width="12.8" height="4.6" rx="1.4" fill="#000" fill-opacity="0.92" filter="url(#b2)"/>
<rect x="440" y="246.1" width="12.8" height="4.6" rx="1.4" fill="#000" fill-opacity="0.92" filter="url(#b2)"/>
<rect x="452.4" y="246.1" width="12.8" height="4.6" rx="1.4" fill="#000" fill-opacity="0.95" filter="url(#b2)"/>
<rect x="465.2" y="246.1" width="12.8" height="4.6" rx="1.4" fill="#000" fill-opacity="0.75" filter="url(#b2)"/>
<rect x="479.6" y="246.1" width="12.8" height="4.6" rx="1.4" fill="#000" fill-opacity="0.95" filter="url(#b2)"/>
<rect x="494.1" y="246.1" width="12.8" height="4.6" rx="1.4" fill="#000" fill-opacity="0.75" filter="url(#b2)"/>
<rect x="328.2" y="256.8" width="182.6" height="14.8" fill="#fff" stroke="#1e1e1e" stroke-width="1.25"/>
<rect x="346" y="263.8" width="12.8" height="3.2" rx="1.4" fill="#000" fill-opacity="0.45" filter="url(#b1)"/>
<rect x="359.8" y="263.8" width="12.8" height="3.2" rx="1.4" fill="#000" fill-opacity="0.70" filter="url(#b1)"/>
<rect x="373.4" y="263.8" width="12.8" height="3.2" rx="1.4" fill="#000" fill-opacity="0.80" filter="url(#b1)"/>
<rect x="386.8" y="263.8" width="12.8" height="3.2" rx="1.4" fill="#000" fill-opacity="0.70" filter="url(#b1)"/>
<rect x="399.8" y="263.8" width="12.8" height="3.2" rx="1.4" fill="#000" fill-opacity="0.85" filter="url(#b1)"/>
<rect x="413" y="263.8" width="12.8" height="3.2" rx="1.4" fill="#000" fill-opacity="0.70" filter="url(#b1)"/>
<rect x="427.5" y="263.8" width="12.8" height="3.2" rx="1.4" fill="#000" fill-opacity="0.65" filter="url(#b1)"/>
<rect x="440" y="263.8" width="12.8" height="3.2" rx="1.4" fill="#000" fill-opacity="0.75" filter="url(#b1)"/>
<rect x="452.4" y="263.8" width="12.8" height="3.2" rx="1.4" fill="#000" fill-opacity="0.80" filter="url(#b1)"/>
<rect x="465.2" y="263.8" width="12.8" height="3.2" rx="1.4" fill="#000" fill-opacity="0.60" filter="url(#b1)"/>
<rect x="479.6" y="263.8" width="12.8" height="3.2" rx="1.4" fill="#000" fill-opacity="0.50" filter="url(#b1)"/>
<rect x="494.1" y="263.8" width="12.8" height="3.2" rx="1.4" fill="#000" fill-opacity="0.80" filter="url(#b1)"/>
<rect x="328.2" y="275.5" width="182.6" height="16.3" fill="#fff" stroke="#1e1e1e" stroke-width="1.25"/>
<rect x="331.6" y="282.2" width="12.8" height="3.2" rx="1.4" fill="#000" fill-opacity="0.90" filter="url(#b1)"/>
<rect x="346" y="282.2" width="12.8" height="3.2" rx="1.4" fill="#000" fill-opacity="0.65" filter="url(#b1)"/>
<rect x="359.8" y="282.2" width="12.8" height="3.2" rx="1.4" fill="#000" fill-opacity="0.65" filter="url(#b1)"/>
<rect x="373.4" y="282.2" width="12.8" height="3.2" rx="1.4" fill="#000" fill-opacity="0.85" filter="url(#b1)"/>
<rect x="386.8" y="282.2" width="12.8" height="3.2" rx="1.4" fill="#000" fill-opacity="0.85" filter="url(#b1)"/>
<rect x="399.8" y="282.2" width="12.8" height="3.2" rx="1.4" fill="#000" fill-opacity="0.80" filter="url(#b1)"/>
<rect x="413" y="282.2" width="12.8" height="3.2" rx="1.4" fill="#000" fill-opacity="0.50" filter="url(#b1)"/>
<rect x="427.5" y="282.2" width="12.8" height="3.2" rx="1.4" fill="#000" fill-opacity="0.75" filter="url(#b1)"/>
<rect x="440" y="282.2" width="12.8" height="3.2" rx="1.4" fill="#000" fill-opacity="0.70" filter="url(#b1)"/>
<rect x="452.4" y="282.2" width="12.8" height="3.2" rx="1.4" fill="#000" fill-opacity="0.70" filter="url(#b1)"/>
<rect x="465.2" y="282.2" width="12.8" height="3.2" rx="1.4" fill="#000" fill-opacity="0.50" filter="url(#b1)"/>
<rect x="479.6" y="282.2" width="12.8" height="3.2" rx="1.4" fill="#000" fill-opacity="0.75" filter="url(#b1)"/>
<rect x="494.1" y="282.2" width="12.8" height="3.2" rx="1.4" fill="#000" fill-opacity="0.70" filter="url(#b1)"/>
<text transform="translate(84.5 392.4) scale(1 1.06)" font-size="8.7" text-anchor="middle" fill="#111" stroke="#111" stroke-width="0.22">MGH121 pt</text>
<text transform="translate(139.9 382.5) scale(1 1.06)" font-size="8.1" text-anchor="middle" fill="#111" stroke="#111" stroke-width="0.22">MGH121 19 del/</text>
<text transform="translate(139.7 392.4) scale(1 1.06)" font-size="8.1" text-anchor="middle" fill="#111" stroke="#111" stroke-width="0.22">C797S/T790M</text>
<path d="M57.3 396.6H108.6M113.2 396.6H163.5" stroke="#222" stroke-width="1.15"/>
<text x="64.9" y="432.2" font-size="7" fill="#111" stroke="#111" stroke-width="0.18" transform="rotate(-90 64.9 432.2)">DMSO</text>
<text x="79.3" y="432.2" font-size="7" fill="#111" stroke="#111" stroke-width="0.18" transform="rotate(-90 79.3 432.2)">Gefitinib</text>
<text x="93.4" y="432.2" font-size="7" fill="#111" stroke="#111" stroke-width="0.18" transform="rotate(-90 93.4 432.2)">WZ4002</text>
<text x="105.9" y="432.2" font-size="7" fill="#111" stroke="#111" stroke-width="0.18" transform="rotate(-90 105.9 432.2)">Afatinib</text>
<text x="120.1" y="432.2" font-size="7" fill="#111" stroke="#111" stroke-width="0.18" transform="rotate(-90 120.1 432.2)">DMSO</text>
<text x="133.9" y="432.2" font-size="7" fill="#111" stroke="#111" stroke-width="0.18" transform="rotate(-90 133.9 432.2)">Gefitinib</text>
<text x="147.4" y="432.2" font-size="7" fill="#111" stroke="#111" stroke-width="0.18" transform="rotate(-90 147.4 432.2)">WZ4002</text>
<text x="161.3" y="432.2" font-size="7" fill="#111" stroke="#111" stroke-width="0.18" transform="rotate(-90 161.3 432.2)">Afatinib</text>
<text transform="translate(47.2 447.55) scale(1 1.08)" font-size="9.2" text-anchor="end" fill="#111" stroke="#111" stroke-width="0.26">pEGFR</text>
<text transform="translate(47.2 464.75) scale(1 1.08)" font-size="9.2" text-anchor="end" fill="#111" stroke="#111" stroke-width="0.26">EGFR</text>
<text transform="translate(47.2 481.75) scale(1 1.08)" font-size="9.2" text-anchor="end" fill="#111" stroke="#111" stroke-width="0.26">pERK</text>
<text transform="translate(47.2 499.45) scale(1 1.08)" font-size="9.2" text-anchor="end" fill="#111" stroke="#111" stroke-width="0.26">ERK</text>
<text transform="translate(47.2 516.85) scale(1 1.08)" font-size="9.2" text-anchor="end" fill="#111" stroke="#111" stroke-width="0.26">pS6</text>
<text transform="translate(47.2 534.05) scale(1 1.08)" font-size="9.2" text-anchor="end" fill="#111" stroke="#111" stroke-width="0.26">S6</text>
<text transform="translate(47.2 551.45) scale(1 1.08)" font-size="9.2" text-anchor="end" fill="#111" stroke="#111" stroke-width="0.26">Actin</text>
<rect x="54.2" y="437" width="114.2" height="14.3" fill="#fff" stroke="#1e1e1e" stroke-width="1.25"/>
<rect x="54.2" y="454.4" width="114.2" height="13.9" fill="#fff" stroke="#1e1e1e" stroke-width="1.25"/>
<rect x="54.2" y="470.8" width="114.2" height="15.1" fill="#fff" stroke="#1e1e1e" stroke-width="1.25"/>
<rect x="54.2" y="488.6" width="114.2" height="14.9" fill="#fff" stroke="#1e1e1e" stroke-width="1.25"/>
<rect x="54.2" y="506.2" width="114.2" height="14.5" fill="#fff" stroke="#1e1e1e" stroke-width="1.25"/>
<rect x="54.2" y="523.6" width="114.2" height="14.1" fill="#fff" stroke="#1e1e1e" stroke-width="1.25"/>
<rect x="54.2" y="540.8" width="114.2" height="14.5" fill="#fff" stroke="#1e1e1e" stroke-width="1.25"/>
<rect x="55.9" y="443.2" width="12.8" height="4.2" rx="1.4" fill="#000" fill-opacity="0.30" filter="url(#b2)"/>
<rect x="69.7" y="443.2" width="12.8" height="4.2" rx="1.4" fill="#000" fill-opacity="0.27" filter="url(#b2)"/>
<rect x="111.3" y="443.2" width="12.8" height="4.2" rx="1.4" fill="#000" fill-opacity="0.95" filter="url(#b2)"/>
<rect x="125.2" y="443.2" width="12.8" height="4.2" rx="1.4" fill="#000" fill-opacity="1.00" filter="url(#b2)"/>
<rect x="138.7" y="443.2" width="12.8" height="4.2" rx="1.4" fill="#000" fill-opacity="0.95" filter="url(#b2)"/>
<rect x="152.8" y="443.2" width="12.8" height="4.2" rx="1.4" fill="#000" fill-opacity="0.90" filter="url(#b2)"/>
<rect x="55.9" y="459.5" width="12.8" height="3.8" rx="1.4" fill="#000" fill-opacity="0.10" filter="url(#b2)"/>
<rect x="69.7" y="459.5" width="12.8" height="3.8" rx="1.4" fill="#000" fill-opacity="0.35" filter="url(#b2)"/>
<rect x="83.5" y="459.5" width="12.8" height="3.8" rx="1.4" fill="#000" fill-opacity="0.45" filter="url(#b2)"/>
<rect x="97.3" y="459.5" width="12.8" height="3.8" rx="1.4" fill="#000" fill-opacity="0.40" filter="url(#b2)"/>
<rect x="111.3" y="459.5" width="12.8" height="3.8" rx="1.4" fill="#000" fill-opacity="0.60" filter="url(#b2)"/>
<rect x="125.2" y="459.5" width="12.8" height="3.8" rx="1.4" fill="#000" fill-opacity="0.85" filter="url(#b2)"/>
<rect x="138.7" y="459.5" width="12.8" height="3.8" rx="1.4" fill="#000" fill-opacity="1.00" filter="url(#b2)"/>
<rect x="152.8" y="459.5" width="12.8" height="3.8" rx="1.4" fill="#000" fill-opacity="1.00" filter="url(#b2)"/>
<rect x="55.9" y="474.5" width="12.8" height="2.2" rx="1.1" fill="#000" fill-opacity="0.20" filter="url(#b1)"/>
<rect x="69.7" y="474.5" width="12.8" height="2.2" rx="1.1" fill="#000" fill-opacity="0.18" filter="url(#b1)"/>
<rect x="111.3" y="474.5" width="12.8" height="2.2" rx="1.1" fill="#000" fill-opacity="0.20" filter="url(#b1)"/>
<rect x="125.2" y="474.5" width="12.8" height="2.2" rx="1.1" fill="#000" fill-opacity="0.18" filter="url(#b1)"/>
<rect x="138.7" y="474.5" width="12.8" height="2.2" rx="1.1" fill="#000" fill-opacity="0.10" filter="url(#b1)"/>
<rect x="152.8" y="474.5" width="12.8" height="2.2" rx="1.1" fill="#000" fill-opacity="0.08" filter="url(#b1)"/>
<rect x="55.9" y="477.6" width="12.8" height="3" rx="1.4" fill="#000" fill-opacity="0.95" filter="url(#b1)"/>
<rect x="69.7" y="477.6" width="12.8" height="3" rx="1.4" fill="#000" fill-opacity="0.85" filter="url(#b1)"/>
<rect x="111.3" y="477.6" width="12.8" height="3" rx="1.4" fill="#000" fill-opacity="0.90" filter="url(#b1)"/>
<rect x="125.2" y="477.6" width="12.8" height="3" rx="1.4" fill="#000" fill-opacity="0.90" filter="url(#b1)"/>
<rect x="138.7" y="477.6" width="12.8" height="3" rx="1.4" fill="#000" fill-opacity="0.65" filter="url(#b1)"/>
<rect x="152.8" y="477.6" width="12.8" height="3" rx="1.4" fill="#000" fill-opacity="0.30" filter="url(#b1)"/>
<rect x="55.9" y="492.5" width="12.8" height="2.2" rx="1.1" fill="#000" fill-opacity="0.18" filter="url(#b1)"/>
<rect x="69.7" y="492.5" width="12.8" height="2.2" rx="1.1" fill="#000" fill-opacity="0.25" filter="url(#b1)"/>
<rect x="83.5" y="492.5" width="12.8" height="2.2" rx="1.1" fill="#000" fill-opacity="0.45" filter="url(#b1)"/>
<rect x="97.3" y="492.5" width="12.8" height="2.2" rx="1.1" fill="#000" fill-opacity="0.40" filter="url(#b1)"/>
<rect x="111.3" y="492.5" width="12.8" height="2.2" rx="1.1" fill="#000" fill-opacity="0.20" filter="url(#b1)"/>
<rect x="125.2" y="492.5" width="12.8" height="2.2" rx="1.1" fill="#000" fill-opacity="0.15" filter="url(#b1)"/>
<rect x="138.7" y="492.5" width="12.8" height="2.2" rx="1.1" fill="#000" fill-opacity="0.25" filter="url(#b1)"/>
<rect x="152.8" y="492.5" width="12.8" height="2.2" rx="1.1" fill="#000" fill-opacity="0.35" filter="url(#b1)"/>
<rect x="55.9" y="496.4" width="12.8" height="3" rx="1.4" fill="#000" fill-opacity="0.30" filter="url(#b1)"/>
<rect x="69.7" y="496.4" width="12.8" height="3" rx="1.4" fill="#000" fill-opacity="0.35" filter="url(#b1)"/>
<rect x="83.5" y="496.4" width="12.8" height="3" rx="1.4" fill="#000" fill-opacity="1.00" filter="url(#b1)"/>
<rect x="97.3" y="496.4" width="12.8" height="3" rx="1.4" fill="#000" fill-opacity="1.00" filter="url(#b1)"/>
<rect x="111.3" y="496.4" width="12.8" height="3" rx="1.4" fill="#000" fill-opacity="0.30" filter="url(#b1)"/>
<rect x="125.2" y="496.4" width="12.8" height="3" rx="1.4" fill="#000" fill-opacity="0.20" filter="url(#b1)"/>
<rect x="138.7" y="496.4" width="12.8" height="3" rx="1.4" fill="#000" fill-opacity="0.25" filter="url(#b1)"/>
<rect x="152.8" y="496.4" width="12.8" height="3" rx="1.4" fill="#000" fill-opacity="0.75" filter="url(#b1)"/>
<rect x="55.9" y="512.4" width="12.8" height="3" rx="1.4" fill="#000" fill-opacity="0.75" filter="url(#b1)"/>
<rect x="69.7" y="512.4" width="12.8" height="3" rx="1.4" fill="#000" fill-opacity="0.75" filter="url(#b1)"/>
<rect x="83.5" y="512.4" width="12.8" height="3" rx="1.4" fill="#000" fill-opacity="0.05" filter="url(#b1)"/>
<rect x="97.3" y="512.4" width="12.8" height="3" rx="1.4" fill="#000" fill-opacity="0.05" filter="url(#b1)"/>
<rect x="111.3" y="512.4" width="12.8" height="3" rx="1.4" fill="#000" fill-opacity="0.95" filter="url(#b1)"/>
<rect x="125.2" y="512.4" width="12.8" height="3" rx="1.4" fill="#000" fill-opacity="0.90" filter="url(#b1)"/>
<rect x="138.7" y="512.4" width="12.8" height="3" rx="1.4" fill="#000" fill-opacity="0.75" filter="url(#b1)"/>
<rect x="152.8" y="512.4" width="12.8" height="3" rx="1.4" fill="#000" fill-opacity="0.60" filter="url(#b1)"/>
<rect x="55.9" y="529.9" width="12.8" height="3" rx="1.4" fill="#000" fill-opacity="0.60" filter="url(#b1)"/>
<rect x="69.7" y="529.9" width="12.8" height="3" rx="1.4" fill="#000" fill-opacity="0.55" filter="url(#b1)"/>
<rect x="83.5" y="529.9" width="12.8" height="3" rx="1.4" fill="#000" fill-opacity="0.60" filter="url(#b1)"/>
<rect x="97.3" y="529.9" width="12.8" height="3" rx="1.4" fill="#000" fill-opacity="0.70" filter="url(#b1)"/>
<rect x="111.3" y="529.9" width="12.8" height="3" rx="1.4" fill="#000" fill-opacity="0.90" filter="url(#b1)"/>
<rect x="125.2" y="529.9" width="12.8" height="3" rx="1.4" fill="#000" fill-opacity="0.90" filter="url(#b1)"/>
<rect x="138.7" y="529.9" width="12.8" height="3" rx="1.4" fill="#000" fill-opacity="0.85" filter="url(#b1)"/>
<rect x="152.8" y="529.9" width="12.8" height="3" rx="1.4" fill="#000" fill-opacity="0.85" filter="url(#b1)"/>
<rect x="55.9" y="546.3" width="12.8" height="3" rx="1.4" fill="#000" fill-opacity="0.70" filter="url(#b1)"/>
<rect x="69.7" y="546.3" width="12.8" height="3" rx="1.4" fill="#000" fill-opacity="0.85" filter="url(#b1)"/>
<rect x="83.5" y="546.3" width="12.8" height="3" rx="1.4" fill="#000" fill-opacity="0.75" filter="url(#b1)"/>
<rect x="97.3" y="546.3" width="12.8" height="3" rx="1.4" fill="#000" fill-opacity="0.70" filter="url(#b1)"/>
<rect x="111.3" y="546.3" width="12.8" height="3" rx="1.4" fill="#000" fill-opacity="0.75" filter="url(#b1)"/>
<rect x="125.2" y="546.3" width="12.8" height="3" rx="1.4" fill="#000" fill-opacity="0.75" filter="url(#b1)"/>
<rect x="138.7" y="546.3" width="12.8" height="3" rx="1.4" fill="#000" fill-opacity="0.70" filter="url(#b1)"/>
<rect x="152.8" y="546.3" width="12.8" height="3" rx="1.4" fill="#000" fill-opacity="0.50" filter="url(#b1)"/>
<text x="308.1" y="351.8" font-size="8.6" font-weight="bold" text-anchor="middle" fill="#111" stroke="#111" stroke-width="0.22">Gefitinib</text>
<text x="223.9" y="406" font-size="8.7" font-weight="bold" text-anchor="middle" fill="#111" transform="rotate(-90 223.9 406)" stroke="#111" stroke-width="0.22">Relative cell number</text>
<text x="233.6" y="403.2" font-size="8.7" font-weight="bold" text-anchor="middle" fill="#111" transform="rotate(-90 233.6 403.2)" stroke="#111" stroke-width="0.22">% control</text>
<text x="313.5" y="461.5" font-size="8.6" font-weight="bold" text-anchor="middle" fill="#111" stroke="#111" stroke-width="0.22">[TKI] log (&#181;mol/L)</text>
<polyline points="270.55,392.9 271.61,392.9 272.67,392.9 273.73,392.9 274.79,392.9 275.85,392.9 276.91,392.9 277.97,392.9 279.03,392.9 280.09,392.9 281.15,392.9 282.21,392.9 283.27,392.9 284.33,392.9 285.39,392.9 286.45,392.9 287.51,392.9 288.58,392.9 289.64,392.9 290.7,392.9 291.76,392.9 292.82,392.9 293.88,392.9 294.94,392.9 296,392.9 297.06,392.9 298.12,392.9 299.18,392.9 300.24,392.9 301.3,392.9 302.36,392.9 303.42,392.9 304.48,392.9 305.54,392.9 306.6,392.9 307.66,392.91 308.72,392.91 309.78,392.91 310.84,392.91 311.9,392.91 312.96,392.92 314.02,392.92 315.08,392.92 316.14,392.93 317.2,392.94 318.26,392.95 319.32,392.96 320.38,392.98 321.44,393 322.51,393.03 323.57,393.07 324.63,393.11 325.69,393.17 326.75,393.25 327.81,393.34 328.87,393.46 329.93,393.61 330.99,393.8 332.05,394.05 333.11,394.36 334.17,394.75 335.23,395.23 336.29,395.85 337.35,396.61 338.41,397.56 339.47,398.72 340.53,400.15 341.59,401.86 342.65,403.91 343.71,406.3 344.77,409.06 345.83,412.17 346.89,415.59 347.95,419.26 349.01,423.1 350.07,426.98 351.13,430.81 352.19,434.46 353.25,437.86 354.31,438.2 355.38,438.2" fill="none" stroke="#d42a2e" stroke-width="1.1"/>
<polyline points="270.55,392.67 271.61,392.67 272.67,392.67 273.73,392.67 274.79,392.67 275.85,392.67 276.91,392.67 277.97,392.67 279.03,392.67 280.09,392.67 281.15,392.67 282.21,392.67 283.27,392.67 284.33,392.67 285.39,392.67 286.45,392.67 287.51,392.67 288.58,392.67 289.64,392.67 290.7,392.67 291.76,392.67 292.82,392.67 293.88,392.67 294.94,392.67 296,392.67 297.06,392.67 298.12,392.67 299.18,392.67 300.24,392.67 301.3,392.67 302.36,392.67 303.42,392.67 304.48,392.67 305.54,392.67 306.6,392.67 307.66,392.67 308.72,392.67 309.78,392.67 310.84,392.67 311.9,392.67 312.96,392.68 314.02,392.68 315.08,392.68 316.14,392.69 317.2,392.69 318.26,392.7 319.32,392.71 320.38,392.72 321.44,392.73 322.51,392.75 323.57,392.77 324.63,392.8 325.69,392.84 326.75,392.89 327.81,392.95 328.87,393.03 329.93,393.12 330.99,393.25 332.05,393.41 333.11,393.61 334.17,393.86 335.23,394.18 336.29,394.59 337.35,395.1 338.41,395.73 339.47,396.53 340.53,397.51 341.59,398.71 342.65,400.18 343.71,401.95 344.77,404.06 345.83,406.52 346.89,409.34 347.95,412.51 349.01,415.99 350.07,419.71 351.13,423.57 352.19,427.47 353.25,431.29 354.31,434.93 355.38,438.2" fill="none" stroke="#62ab4c" stroke-width="1.0"/>
<circle cx="270.55" cy="391.97" r="1.35" fill="#d42a2e"/>
<circle cx="296.65" cy="392.43" r="1.35" fill="#d42a2e"/>
<circle cx="309.7" cy="393.37" r="1.35" fill="#d42a2e"/>
<circle cx="316.23" cy="393.83" r="1.35" fill="#d42a2e"/>
<circle cx="322.75" cy="394.3" r="1.35" fill="#d42a2e"/>
<circle cx="329.27" cy="394.77" r="1.35" fill="#d42a2e"/>
<circle cx="335.8" cy="395.24" r="1.35" fill="#d42a2e"/>
<circle cx="342.32" cy="405.51" r="1.35" fill="#d42a2e"/>
<circle cx="348.85" cy="427.46" r="1.35" fill="#d42a2e"/>
<circle cx="355.38" cy="438.2" r="1.35" fill="#d42a2e"/>
<polygon points="270.55,390.47 271.98,393.09 269.12,393.09" fill="#7cb342"/>
<polygon points="296.65,390.94 298.08,393.56 295.22,393.56" fill="#7cb342"/>
<polygon points="303.18,391.87 304.61,394.49 301.75,394.49" fill="#7cb342"/>
<polygon points="309.7,393.27 311.13,395.89 308.27,395.89" fill="#7cb342"/>
<polygon points="316.23,394.21 317.66,396.82 314.8,396.82" fill="#7cb342"/>
<polygon points="322.75,393.74 324.18,396.36 321.32,396.36" fill="#7cb342"/>
<polygon points="329.27,393.74 330.7,396.36 327.84,396.36" fill="#7cb342"/>
<polygon points="335.8,394.21 337.23,396.82 334.37,396.82" fill="#7cb342"/>
<polygon points="342.32,399.34 343.75,401.96 340.89,401.96" fill="#7cb342"/>
<polygon points="348.85,414.29 350.28,416.91 347.42,416.91" fill="#7cb342"/>
<polygon points="355.38,435.77 356.81,438.39 353.94,438.39" fill="#7cb342"/>
<path d="M257.5 368.15V438.2H361.9" fill="none" stroke="#2a2a2a" stroke-width="1.05"/>
<path d="M254.9 438.2H257.5" stroke="#2a2a2a" stroke-width="1.1"/>
<text x="254.2" y="440.76" font-size="7.1" font-weight="bold" text-anchor="end" fill="#111" stroke="#111" stroke-width="0.14">0</text>
<path d="M254.9 414.85H257.5" stroke="#2a2a2a" stroke-width="1.1"/>
<text x="254.2" y="417.41" font-size="7.1" font-weight="bold" text-anchor="end" fill="#111" stroke="#111" stroke-width="0.14">50</text>
<path d="M254.9 391.5H257.5" stroke="#2a2a2a" stroke-width="1.1"/>
<text x="254.2" y="394.06" font-size="7.1" font-weight="bold" text-anchor="end" fill="#111" stroke="#111" stroke-width="0.14">100</text>
<path d="M254.9 368.15H257.5" stroke="#2a2a2a" stroke-width="1.1"/>
<text x="254.2" y="370.71" font-size="7.1" font-weight="bold" text-anchor="end" fill="#111" stroke="#111" stroke-width="0.14">150</text>
<path d="M257.5 438.2V440.8" stroke="#2a2a2a" stroke-width="1.1"/>
<text x="256.5" y="449" font-size="7.1" font-weight="bold" text-anchor="middle" fill="#111" stroke="#111" stroke-width="0.14">&#8211;6</text>
<path d="M283.6 438.2V440.8" stroke="#2a2a2a" stroke-width="1.1"/>
<text x="282.6" y="449" font-size="7.1" font-weight="bold" text-anchor="middle" fill="#111" stroke="#111" stroke-width="0.14">&#8211;4</text>
<path d="M309.7 438.2V440.8" stroke="#2a2a2a" stroke-width="1.1"/>
<text x="308.7" y="449" font-size="7.1" font-weight="bold" text-anchor="middle" fill="#111" stroke="#111" stroke-width="0.14">&#8211;2</text>
<path d="M335.8 438.2V440.8" stroke="#2a2a2a" stroke-width="1.1"/>
<text x="335.8" y="449" font-size="7.1" font-weight="bold" text-anchor="middle" fill="#111" stroke="#111" stroke-width="0.14">0</text>
<path d="M361.9 438.2V440.8" stroke="#2a2a2a" stroke-width="1.1"/>
<text x="361.9" y="449" font-size="7.1" font-weight="bold" text-anchor="middle" fill="#111" stroke="#111" stroke-width="0.14">2</text>
<text x="463" y="351.7" font-size="8.6" font-weight="bold" text-anchor="middle" fill="#111" stroke="#111" stroke-width="0.22">Afatinib</text>
<text x="381.4" y="403.8" font-size="8.7" font-weight="bold" text-anchor="middle" fill="#111" transform="rotate(-90 381.4 403.8)" stroke="#111" stroke-width="0.22">Relative cell number</text>
<text x="391.4" y="401.6" font-size="8.7" font-weight="bold" text-anchor="middle" fill="#111" transform="rotate(-90 391.4 401.6)" stroke="#111" stroke-width="0.22">% control</text>
<text x="465.5" y="461.6" font-size="8.6" font-weight="bold" text-anchor="middle" fill="#111" stroke="#111" stroke-width="0.22">[TKI] log (&#181;mol/L)</text>
<polyline points="424.97,392.84 426.05,392.84 427.13,392.84 428.2,392.84 429.28,392.84 430.36,392.84 431.44,392.84 432.52,392.84 433.6,392.84 434.67,392.84 435.75,392.85 436.83,392.85 437.91,392.85 438.99,392.86 440.06,392.86 441.14,392.87 442.22,392.88 443.3,392.89 444.38,392.9 445.46,392.91 446.53,392.93 447.61,392.95 448.69,392.98 449.77,393.02 450.85,393.06 451.92,393.11 453,393.18 454.08,393.26 455.16,393.37 456.24,393.49 457.32,393.64 458.39,393.83 459.47,394.07 460.55,394.35 461.63,394.7 462.71,395.13 463.78,395.64 464.86,396.26 465.94,397 467.02,397.89 468.1,398.93 469.18,400.14 470.25,401.54 471.33,403.13 472.41,404.9 473.49,406.85 474.57,408.96 475.64,411.18 476.72,413.46 477.8,415.77 478.88,418.05 479.96,420.24 481.04,422.31 482.11,424.21 483.19,425.94 484.27,427.48 485.35,428.83 486.43,430 487.5,430.99 488.58,431.84 489.66,432.55 490.74,433.14 491.82,433.63 492.9,434.03 493.97,434.36 495.05,434.63 496.13,434.85 497.21,435.03 498.29,435.18 499.36,435.3 500.44,435.39 501.52,435.47 502.6,435.53 503.68,435.59 504.76,435.63 505.83,435.66 506.91,435.69 507.99,435.71 509.07,435.73 510.15,435.74 511.22,435.75" fill="none" stroke="#d42a2e" stroke-width="1.1"/>
<polyline points="424.97,392.84 426.05,392.84 427.13,392.84 428.2,392.84 429.28,392.84 430.36,392.84 431.44,392.84 432.52,392.84 433.6,392.84 434.67,392.84 435.75,392.84 436.83,392.85 437.91,392.85 438.99,392.85 440.06,392.85 441.14,392.86 442.22,392.86 443.3,392.87 444.38,392.87 445.46,392.88 446.53,392.89 447.61,392.9 448.69,392.92 449.77,392.93 450.85,392.95 451.92,392.97 453,393 454.08,393.03 455.16,393.07 456.24,393.11 457.32,393.17 458.39,393.23 459.47,393.31 460.55,393.4 461.63,393.51 462.71,393.64 463.78,393.79 464.86,393.97 465.94,394.18 467.02,394.44 468.1,394.73 469.18,395.08 470.25,395.49 471.33,395.97 472.41,396.53 473.49,397.18 474.57,397.92 475.64,398.77 476.72,399.74 477.8,400.83 478.88,402.04 479.96,403.39 481.04,404.86 482.11,406.45 483.19,408.15 484.27,409.93 485.35,411.77 486.43,413.65 487.5,415.53 488.58,417.4 489.66,419.21 490.74,420.95 491.82,422.59 492.9,424.11 493.97,425.52 495.05,426.8 496.13,427.94 497.21,428.97 498.29,429.87 499.36,430.66 500.44,431.35 501.52,431.95 502.6,432.46 503.68,432.9 504.76,433.28 505.83,433.6 506.91,433.87 507.99,434.1 509.07,434.3 510.15,434.46 511.22,434.6" fill="none" stroke="#62ab4c" stroke-width="1.0"/>
<circle cx="424.97" cy="390.97" r="1.35" fill="#d42a2e"/>
<circle cx="451.51" cy="392.83" r="1.35" fill="#d42a2e"/>
<circle cx="458.14" cy="395.17" r="1.35" fill="#d42a2e"/>
<circle cx="464.78" cy="397.5" r="1.35" fill="#d42a2e"/>
<circle cx="471.41" cy="402.83" r="1.35" fill="#d42a2e"/>
<circle cx="478.05" cy="416.23" r="1.35" fill="#d42a2e"/>
<circle cx="484.69" cy="427.39" r="1.35" fill="#d42a2e"/>
<circle cx="491.32" cy="429.73" r="1.35" fill="#d42a2e"/>
<circle cx="497.95" cy="433.09" r="1.35" fill="#d42a2e"/>
<circle cx="504.59" cy="434.87" r="1.35" fill="#d42a2e"/>
<circle cx="511.22" cy="436.27" r="1.35" fill="#d42a2e"/>
<polygon points="424.97,390.41 426.4,393.02 423.54,393.02" fill="#7cb342"/>
<polygon points="451.51,391.34 452.94,393.96 450.08,393.96" fill="#7cb342"/>
<polygon points="458.14,392.27 459.57,394.89 456.71,394.89" fill="#7cb342"/>
<polygon points="464.78,392.74 466.21,395.36 463.35,395.36" fill="#7cb342"/>
<polygon points="471.41,397.41 472.84,400.03 469.98,400.03" fill="#7cb342"/>
<polygon points="478.05,402.69 479.48,405.3 476.62,405.3" fill="#7cb342"/>
<polygon points="484.69,410.95 486.12,413.57 483.25,413.57" fill="#7cb342"/>
<polygon points="491.32,416.7 492.75,419.31 489.89,419.31" fill="#7cb342"/>
<polygon points="497.95,430.1 499.38,432.72 496.52,432.72" fill="#7cb342"/>
<polygon points="504.59,431.97 506.02,434.59 503.16,434.59" fill="#7cb342"/>
<polygon points="511.22,433.37 512.65,435.99 509.79,435.99" fill="#7cb342"/>
<path d="M411.7 367.15V437.2H517.86" fill="none" stroke="#2a2a2a" stroke-width="1.05"/>
<path d="M409.1 437.2H411.7" stroke="#2a2a2a" stroke-width="1.1"/>
<text x="408.4" y="439.76" font-size="7.1" font-weight="bold" text-anchor="end" fill="#111" stroke="#111" stroke-width="0.14">0</text>
<path d="M409.1 413.85H411.7" stroke="#2a2a2a" stroke-width="1.1"/>
<text x="408.4" y="416.41" font-size="7.1" font-weight="bold" text-anchor="end" fill="#111" stroke="#111" stroke-width="0.14">50</text>
<path d="M409.1 390.5H411.7" stroke="#2a2a2a" stroke-width="1.1"/>
<text x="408.4" y="393.06" font-size="7.1" font-weight="bold" text-anchor="end" fill="#111" stroke="#111" stroke-width="0.14">100</text>
<path d="M409.1 367.15H411.7" stroke="#2a2a2a" stroke-width="1.1"/>
<text x="408.4" y="369.71" font-size="7.1" font-weight="bold" text-anchor="end" fill="#111" stroke="#111" stroke-width="0.14">150</text>
<path d="M411.7 437.2V439.8" stroke="#2a2a2a" stroke-width="1.1"/>
<text x="410.7" y="448" font-size="7.1" font-weight="bold" text-anchor="middle" fill="#111" stroke="#111" stroke-width="0.14">&#8211;6</text>
<path d="M438.24 437.2V439.8" stroke="#2a2a2a" stroke-width="1.1"/>
<text x="437.24" y="448" font-size="7.1" font-weight="bold" text-anchor="middle" fill="#111" stroke="#111" stroke-width="0.14">&#8211;4</text>
<path d="M464.78 437.2V439.8" stroke="#2a2a2a" stroke-width="1.1"/>
<text x="463.78" y="448" font-size="7.1" font-weight="bold" text-anchor="middle" fill="#111" stroke="#111" stroke-width="0.14">&#8211;2</text>
<path d="M491.32 437.2V439.8" stroke="#2a2a2a" stroke-width="1.1"/>
<text x="491.32" y="448" font-size="7.1" font-weight="bold" text-anchor="middle" fill="#111" stroke="#111" stroke-width="0.14">0</text>
<path d="M517.86 437.2V439.8" stroke="#2a2a2a" stroke-width="1.1"/>
<text x="517.86" y="448" font-size="7.1" font-weight="bold" text-anchor="middle" fill="#111" stroke="#111" stroke-width="0.14">2</text>
<text x="306" y="481.4" font-size="8.6" font-weight="bold" text-anchor="middle" fill="#111" stroke="#111" stroke-width="0.22">WZ4002</text>
<text x="224.4" y="533.7" font-size="8.7" font-weight="bold" text-anchor="middle" fill="#111" transform="rotate(-90 224.4 533.7)" stroke="#111" stroke-width="0.22">Relative cell number</text>
<text x="234.2" y="532.5" font-size="8.7" font-weight="bold" text-anchor="middle" fill="#111" transform="rotate(-90 234.2 532.5)" stroke="#111" stroke-width="0.22">% control</text>
<text x="311.9" y="588.7" font-size="8.6" font-weight="bold" text-anchor="middle" fill="#111" stroke="#111" stroke-width="0.22">[TKI] log (&#181;mol/L)</text>
<polyline points="268,516.5 269.1,516.5 270.19,516.5 271.29,516.51 272.39,516.51 273.48,516.51 274.58,516.51 275.68,516.51 276.77,516.52 277.87,516.52 278.97,516.53 280.07,516.53 281.16,516.54 282.26,516.55 283.36,516.57 284.45,516.58 285.55,516.6 286.65,516.63 287.74,516.66 288.84,516.7 289.94,516.75 291.03,516.82 292.13,516.9 293.23,517 294.32,517.12 295.42,517.27 296.52,517.47 297.62,517.7 298.71,517.99 299.81,518.36 300.91,518.8 302,519.34 303.1,520 304.2,520.8 305.29,521.76 306.39,522.9 307.49,524.23 308.58,525.78 309.68,527.56 310.78,529.54 311.88,531.73 312.97,534.09 314.07,536.56 315.17,539.11 316.26,541.66 317.36,544.16 318.46,546.54 319.55,548.75 320.65,550.77 321.75,552.57 322.84,554.16 323.94,555.53 325.04,556.7 326.13,557.68 327.23,558.5 328.33,559.18 329.43,559.74 330.52,560.2 331.62,560.57 332.72,560.87 333.81,561.12 334.91,561.32 336.01,561.47 337.1,561.6 338.2,561.71 339.3,561.79 340.39,561.85 341.49,561.91 342.59,561.95 343.68,561.98 344.78,562.01 345.88,562.03 346.98,562.05 348.07,562.06 349.17,562.07 350.27,562.08 351.36,562.09 352.46,562.1 353.56,562.1 354.65,562.1 355.75,562.11" fill="none" stroke="#d42a2e" stroke-width="1.1"/>
<polyline points="268,523.29 269.1,523.29 270.19,523.3 271.29,523.3 272.39,523.3 273.48,523.3 274.58,523.3 275.68,523.3 276.77,523.3 277.87,523.3 278.97,523.3 280.07,523.3 281.16,523.3 282.26,523.3 283.36,523.3 284.45,523.31 285.55,523.31 286.65,523.31 287.74,523.31 288.84,523.32 289.94,523.32 291.03,523.32 292.13,523.33 293.23,523.34 294.32,523.34 295.42,523.35 296.52,523.36 297.62,523.38 298.71,523.39 299.81,523.41 300.91,523.43 302,523.45 303.1,523.48 304.2,523.51 305.29,523.55 306.39,523.6 307.49,523.65 308.58,523.71 309.68,523.79 310.78,523.87 311.88,523.97 312.97,524.09 314.07,524.23 315.17,524.39 316.26,524.58 317.36,524.79 318.46,525.05 319.55,525.34 320.65,525.68 321.75,526.07 322.84,526.53 323.94,527.04 325.04,527.64 326.13,528.31 327.23,529.07 328.33,529.92 329.43,530.87 330.52,531.92 331.62,533.08 332.72,534.33 333.81,535.68 334.91,537.12 336.01,538.64 337.1,540.21 338.2,541.82 339.3,543.46 340.39,545.09 341.49,546.71 342.59,548.28 343.68,549.79 344.78,551.23 345.88,552.57 346.98,553.83 348.07,554.98 349.17,556.03 350.27,556.98 351.36,557.82 352.46,558.58 353.56,559.25 354.65,559.84 355.75,560.36" fill="none" stroke="#62ab4c" stroke-width="1.0"/>
<circle cx="268" cy="516.98" r="1.35" fill="#d42a2e"/>
<circle cx="295" cy="517.47" r="1.35" fill="#d42a2e"/>
<circle cx="301.75" cy="518.93" r="1.35" fill="#d42a2e"/>
<circle cx="308.5" cy="524.75" r="1.35" fill="#d42a2e"/>
<circle cx="315.25" cy="542.22" r="1.35" fill="#d42a2e"/>
<circle cx="322" cy="553.38" r="1.35" fill="#d42a2e"/>
<circle cx="328.75" cy="557.75" r="1.35" fill="#d42a2e"/>
<circle cx="335.5" cy="558.24" r="1.35" fill="#d42a2e"/>
<circle cx="342.25" cy="560.18" r="1.35" fill="#d42a2e"/>
<circle cx="349" cy="562.12" r="1.35" fill="#d42a2e"/>
<circle cx="355.75" cy="565.51" r="1.35" fill="#d42a2e"/>
<polygon points="268,521.8 269.43,524.41 266.57,524.41" fill="#7cb342"/>
<polygon points="295,517.43 296.43,520.05 293.57,520.05" fill="#7cb342"/>
<polygon points="301.75,517.92 303.18,520.53 300.32,520.53" fill="#7cb342"/>
<polygon points="308.5,520.34 309.93,522.96 307.07,522.96" fill="#7cb342"/>
<polygon points="315.25,529.56 316.68,532.18 313.82,532.18" fill="#7cb342"/>
<polygon points="322,533.93 323.43,536.55 320.57,536.55" fill="#7cb342"/>
<polygon points="328.75,537.81 330.18,540.43 327.32,540.43" fill="#7cb342"/>
<polygon points="335.5,537.81 336.93,540.43 334.07,540.43" fill="#7cb342"/>
<polygon points="342.25,543.15 343.68,545.77 340.82,545.77" fill="#7cb342"/>
<polygon points="349,553.34 350.43,555.96 347.57,555.96" fill="#7cb342"/>
<polygon points="355.75,560.14 357.18,562.75 354.32,562.75" fill="#7cb342"/>
<path d="M254.5 493.2V566H362.5" fill="none" stroke="#2a2a2a" stroke-width="1.05"/>
<path d="M251.9 566H254.5" stroke="#2a2a2a" stroke-width="1.1"/>
<text x="251.2" y="568.56" font-size="7.1" font-weight="bold" text-anchor="end" fill="#111" stroke="#111" stroke-width="0.14">0</text>
<path d="M251.9 541.74H254.5" stroke="#2a2a2a" stroke-width="1.1"/>
<text x="251.2" y="544.29" font-size="7.1" font-weight="bold" text-anchor="end" fill="#111" stroke="#111" stroke-width="0.14">50</text>
<path d="M251.9 517.47H254.5" stroke="#2a2a2a" stroke-width="1.1"/>
<text x="251.2" y="520.03" font-size="7.1" font-weight="bold" text-anchor="end" fill="#111" stroke="#111" stroke-width="0.14">100</text>
<path d="M251.9 493.2H254.5" stroke="#2a2a2a" stroke-width="1.1"/>
<text x="251.2" y="495.76" font-size="7.1" font-weight="bold" text-anchor="end" fill="#111" stroke="#111" stroke-width="0.14">150</text>
<path d="M254.5 566V568.6" stroke="#2a2a2a" stroke-width="1.1"/>
<text x="253.5" y="576.8" font-size="7.1" font-weight="bold" text-anchor="middle" fill="#111" stroke="#111" stroke-width="0.14">&#8211;6</text>
<path d="M281.5 566V568.6" stroke="#2a2a2a" stroke-width="1.1"/>
<text x="280.5" y="576.8" font-size="7.1" font-weight="bold" text-anchor="middle" fill="#111" stroke="#111" stroke-width="0.14">&#8211;4</text>
<path d="M308.5 566V568.6" stroke="#2a2a2a" stroke-width="1.1"/>
<text x="307.5" y="576.8" font-size="7.1" font-weight="bold" text-anchor="middle" fill="#111" stroke="#111" stroke-width="0.14">&#8211;2</text>
<path d="M335.5 566V568.6" stroke="#2a2a2a" stroke-width="1.1"/>
<text x="335.5" y="576.8" font-size="7.1" font-weight="bold" text-anchor="middle" fill="#111" stroke="#111" stroke-width="0.14">0</text>
<path d="M362.5 566V568.6" stroke="#2a2a2a" stroke-width="1.1"/>
<text x="362.5" y="576.8" font-size="7.1" font-weight="bold" text-anchor="middle" fill="#111" stroke="#111" stroke-width="0.14">2</text>
<path d="M412.2 494.3V565.9H520" fill="none" stroke="#2a2a2a" stroke-width="1.1"/>
<path d="M410 494.3H412.2" stroke="#2a2a2a" stroke-width="1"/>
<text x="409.4" y="496.9" font-size="7.2" font-weight="bold" text-anchor="end" fill="#111" stroke="#111" stroke-width="0.22">100</text>
<path d="M410 512.2H412.2" stroke="#2a2a2a" stroke-width="1"/>
<text x="409.4" y="514.8" font-size="7.2" font-weight="bold" text-anchor="end" fill="#111" stroke="#111" stroke-width="0.22">10</text>
<path d="M410 530.1H412.2" stroke="#2a2a2a" stroke-width="1"/>
<text x="409.4" y="532.7" font-size="7.2" font-weight="bold" text-anchor="end" fill="#111" stroke="#111" stroke-width="0.22">1</text>
<path d="M410 548H412.2" stroke="#2a2a2a" stroke-width="1"/>
<text x="409.4" y="550.6" font-size="7.2" font-weight="bold" text-anchor="end" fill="#111" stroke="#111" stroke-width="0.22">0.1</text>
<path d="M410 565.9H412.2" stroke="#2a2a2a" stroke-width="1"/>
<text x="409.4" y="568.5" font-size="7.2" font-weight="bold" text-anchor="end" fill="#111" stroke="#111" stroke-width="0.22">0.01</text>
<path d="M430 565.9V568.1" stroke="#2a2a2a" stroke-width="1"/>
<text x="432.4" y="576.4" font-size="8.1" font-weight="bold" text-anchor="end" fill="#111" transform="rotate(-45 432.4 576.4)" stroke="#111" stroke-width="0.22">Gefitinib</text>
<path d="M465.8 565.9V568.1" stroke="#2a2a2a" stroke-width="1"/>
<text x="468.2" y="576.4" font-size="8.1" font-weight="bold" text-anchor="end" fill="#111" transform="rotate(-45 468.2 576.4)" stroke="#111" stroke-width="0.22">Afatinib</text>
<path d="M501.6 565.9V568.1" stroke="#2a2a2a" stroke-width="1"/>
<text x="504" y="576.4" font-size="8.1" font-weight="bold" text-anchor="end" fill="#111" transform="rotate(-45 504 576.4)" stroke="#111" stroke-width="0.22">WZ4002</text>
<path d="M410.8 560.51H412.2" stroke="#2a2a2a" stroke-width="0.6"/>
<path d="M410.8 557.36H412.2" stroke="#2a2a2a" stroke-width="0.6"/>
<path d="M410.8 555.12H412.2" stroke="#2a2a2a" stroke-width="0.6"/>
<path d="M410.8 553.39H412.2" stroke="#2a2a2a" stroke-width="0.6"/>
<path d="M410.8 551.97H412.2" stroke="#2a2a2a" stroke-width="0.6"/>
<path d="M410.8 550.77H412.2" stroke="#2a2a2a" stroke-width="0.6"/>
<path d="M410.8 549.73H412.2" stroke="#2a2a2a" stroke-width="0.6"/>
<path d="M410.8 548.82H412.2" stroke="#2a2a2a" stroke-width="0.6"/>
<path d="M410.8 542.61H412.2" stroke="#2a2a2a" stroke-width="0.6"/>
<path d="M410.8 539.46H412.2" stroke="#2a2a2a" stroke-width="0.6"/>
<path d="M410.8 537.22H412.2" stroke="#2a2a2a" stroke-width="0.6"/>
<path d="M410.8 535.49H412.2" stroke="#2a2a2a" stroke-width="0.6"/>
<path d="M410.8 534.07H412.2" stroke="#2a2a2a" stroke-width="0.6"/>
<path d="M410.8 532.87H412.2" stroke="#2a2a2a" stroke-width="0.6"/>
<path d="M410.8 531.83H412.2" stroke="#2a2a2a" stroke-width="0.6"/>
<path d="M410.8 530.92H412.2" stroke="#2a2a2a" stroke-width="0.6"/>
<path d="M410.8 524.71H412.2" stroke="#2a2a2a" stroke-width="0.6"/>
<path d="M410.8 521.56H412.2" stroke="#2a2a2a" stroke-width="0.6"/>
<path d="M410.8 519.32H412.2" stroke="#2a2a2a" stroke-width="0.6"/>
<path d="M410.8 517.59H412.2" stroke="#2a2a2a" stroke-width="0.6"/>
<path d="M410.8 516.17H412.2" stroke="#2a2a2a" stroke-width="0.6"/>
<path d="M410.8 514.97H412.2" stroke="#2a2a2a" stroke-width="0.6"/>
<path d="M410.8 513.93H412.2" stroke="#2a2a2a" stroke-width="0.6"/>
<path d="M410.8 513.02H412.2" stroke="#2a2a2a" stroke-width="0.6"/>
<path d="M410.8 506.81H412.2" stroke="#2a2a2a" stroke-width="0.6"/>
<path d="M410.8 503.66H412.2" stroke="#2a2a2a" stroke-width="0.6"/>
<path d="M410.8 501.42H412.2" stroke="#2a2a2a" stroke-width="0.6"/>
<path d="M410.8 499.69H412.2" stroke="#2a2a2a" stroke-width="0.6"/>
<path d="M410.8 498.27H412.2" stroke="#2a2a2a" stroke-width="0.6"/>
<path d="M410.8 497.07H412.2" stroke="#2a2a2a" stroke-width="0.6"/>
<path d="M410.8 496.03H412.2" stroke="#2a2a2a" stroke-width="0.6"/>
<path d="M410.8 495.12H412.2" stroke="#2a2a2a" stroke-width="0.6"/>
<text x="385" y="534" font-size="8.6" font-weight="bold" text-anchor="middle" fill="#111" transform="rotate(-90 385 534)" stroke="#111" stroke-width="0.22">IC<tspan font-size="5.5" dy="2">50</tspan><tspan dy="-2"> (&#181;mol/L)</tspan></text>
<polygon points="430,503.58 431.43,506.2 428.57,506.2" fill="#7cb342"/>
<circle cx="430" cy="512.2" r="1.6" fill="#d42a2e"/>
<polygon points="465.8,533.99 467.23,536.61 464.37,536.61" fill="#7cb342"/>
<circle cx="465.8" cy="549.26" r="1.6" fill="#d42a2e"/>
<polygon points="501.6,524.95 503.03,527.57 500.17,527.57" fill="#7cb342"/>
<circle cx="501.6" cy="557.36" r="1.6" fill="#d42a2e"/>
<rect x="274.2" y="614.6" width="200.8" height="12.7" fill="#fff" stroke="#222" stroke-width="1"/>
<circle cx="283.5" cy="621.8" r="2.7" fill="#d42a2e"/>
<text x="288.8" y="624.8" font-size="8.4" fill="#111" stroke="#111" stroke-width="0.28">MGH121 pt</text>
<polygon points="350,618.4 353.2,624 346.8,624" fill="#7cb342"/>
<text x="356.2" y="624.8" font-size="8.4" fill="#111" stroke="#111" stroke-width="0.28">MGH121 19 del/C797S/T790M</text>
</g></svg>
</body></html>
